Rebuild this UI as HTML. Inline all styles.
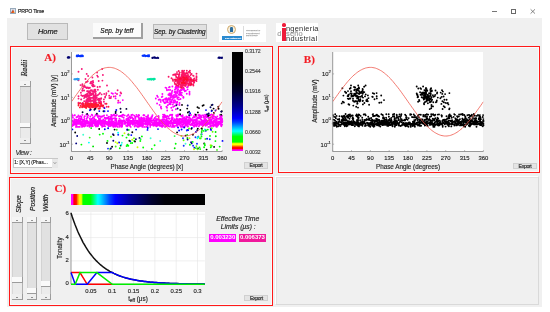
<!DOCTYPE html>
<html><head><meta charset="utf-8"><title>PRPO Time</title><style>
*{margin:0;padding:0;box-sizing:border-box}
html,body{width:550px;height:312px;overflow:hidden;background:#fff;font-family:"Liberation Sans",Arial,sans-serif;color:#262626}
.a{position:absolute}
.btn{position:absolute;background:#e1e1e1;border:1px solid #b9b9b9;font-style:italic;text-align:center;color:#1a1a1a;white-space:nowrap;-webkit-text-stroke:0.2px currentColor}
.red{position:absolute;border:1px solid #ff1a1a;box-shadow:inset 0 0 0 1px #fafafa}
.t{position:absolute;white-space:nowrap;line-height:1;-webkit-text-stroke:0.15px currentColor}
.r90{position:absolute;white-space:nowrap;line-height:1;-webkit-text-stroke:0.15px currentColor;transform:translate(-50%,-50%) rotate(-90deg)}
.c{transform:translate(-50%,-50%)}
.sl{position:absolute;background:#e7e7e7;border:1px solid #d0d0d0}
.sb{position:absolute;background:#f7f7f7;border:1px solid #c4c4c4;border-right-color:#a8a8a8;border-bottom-color:#a8a8a8}
.tri{position:absolute;width:0;height:0;border-left:1.5px solid transparent;border-right:1.5px solid transparent}
svg{position:absolute;left:0;top:0;overflow:visible}
</style></head><body>
<div class="a" style="left:9.6px;top:8.2px;width:6.2px;height:6px;background:#dde6ef;border:0.5px solid #9ab"></div><div class="a" style="left:10.6px;top:9.2px;width:4.4px;height:4.2px;background:linear-gradient(135deg,#2f6fc0 0%,#e04a18 55%,#f3a31f 100%);clip-path:polygon(0 100%,55% 0,100% 100%)"></div><div class="t" style="left:18.1px;top:9.1px;font-size:5.2px;color:#111;letter-spacing:-0.18px">PRPO Time</div><div class="a" style="left:491.8px;top:11px;width:5px;height:1px;background:#777"></div><div class="a" style="left:511.3px;top:9.4px;width:4.5px;height:4.2px;border:1px solid #6a6a6a"></div><svg width="550" height="312"><path d="M530.6 9.3L535 13.6M535 9.3L530.6 13.6" stroke="#555" stroke-width="0.7"/></svg><div class="a" style="left:7px;top:18px;width:535px;height:289px;background:#f0f0f0"></div><div class="btn" style="left:27.3px;top:23.3px;width:41px;height:16.3px;line-height:16.6px;font-size:7.4px">Home</div><div class="btn" style="left:92.6px;top:23.3px;width:50.4px;height:15.8px;line-height:16.6px;font-size:6.5px;background:#fbfbfb;border:none;border-right:2px solid #a0a0a0;border-bottom:2px solid #a0a0a0">Sep. by teff</div><div class="btn" style="left:153px;top:24px;width:53.7px;height:14.6px;line-height:14.6px;font-size:6.3px">Sep. by Clustering</div><div class="a" style="left:219.4px;top:23.5px;width:47px;height:18.2px;background:#fff"></div><div class="a" style="left:227.3px;top:25.2px;width:9.2px;height:9.2px;border-radius:50%;background:#f6eedc;border:0.7px solid #d0aa6c"></div><div class="a" style="left:230.4px;top:27.3px;width:3px;height:4.8px;background:#2a6c9e;border-radius:1.2px 1.2px 0.5px 0.5px"></div><div class="a" style="left:222.4px;top:36.3px;width:19.3px;height:3.6px;background:#2b8bd0"></div><div class="a" style="left:243.4px;top:25.5px;width:0.6px;height:14.5px;background:#dcdcdc"></div><div class="t" style="left:246px;top:28.8px;font-size:2px;color:#9a9a9a;-webkit-text-stroke:0.25px #b0b0b0;letter-spacing:0.05px">UNIVERSIDAD</div><div class="t" style="left:246px;top:31.5px;font-size:2px;color:#9a9a9a;-webkit-text-stroke:0.25px #b0b0b0;letter-spacing:0.05px">POLIT&#201;CNICA</div><div class="t" style="left:246px;top:34.2px;font-size:2px;color:#9a9a9a;-webkit-text-stroke:0.25px #b0b0b0;letter-spacing:0.05px">DE MADRID</div><div class="t" style="left:225px;top:37.1px;font-size:2.3px;color:#fff;-webkit-text-stroke:0.15px #e8f2fa;letter-spacing:0.1px">POLIT&#201;CNICA</div><div class="a" style="left:276px;top:23.2px;width:42px;height:18.5px;background:#fff"></div><div class="a" style="left:282px;top:23.3px;width:3.7px;height:3.7px;background:#ee1c3a;border-radius:50%"></div><div class="a" style="left:282px;top:27.6px;width:3.7px;height:13.6px;background:#ee1c3a"></div><div class="t" style="left:286px;top:24.6px;font-size:7.4px;color:#2a2a2a;letter-spacing:0.25px;-webkit-text-stroke:0">ngenieria</div><div class="t" style="left:277.2px;top:30.1px;font-size:7.4px;color:#9c9c9c;letter-spacing:0.2px">d<span style="display:inline-block;width:4.6px"></span>seño</div><div class="t" style="left:286px;top:35.4px;font-size:7.4px;color:#2a2a2a;letter-spacing:0.4px;-webkit-text-stroke:0">ndustrial</div><div class="red" style="left:10px;top:46px;width:263px;height:128px"></div><div class="red" style="left:278px;top:46px;width:262px;height:127px"></div><div class="red" style="left:9px;top:177px;width:264px;height:129px"></div><div class="a" style="left:275px;top:176px;width:264px;height:129px;border:1px solid #d9d9d9;border-top-color:#fff;border-left-color:#fff;box-shadow:inset 1px 1px 0 #e3e3e3"></div><div class="t" style="left:44.3px;top:51.7px;font-family:'Liberation Serif',serif;font-weight:bold;font-size:11px;color:#f41c24">A)</div><div class="t" style="left:303.8px;top:54.3px;font-family:'Liberation Serif',serif;font-weight:bold;font-size:11px;color:#f41c24">B)</div><div class="t" style="left:54.5px;top:182.8px;font-family:'Liberation Serif',serif;font-weight:bold;font-size:11px;color:#f41c24">C)</div><div class="r90" style="left:25.1px;top:68.1px;font-size:7.7px;font-style:italic;font-family:'Liberation Serif',serif;color:#1a1a1a">Radii</div><div class="a" style="left:20.2px;top:81.3px;width:10.8px;height:62.5px;background:#e1e1e1;border-left:1px solid #d2d2d2;border-right:1px solid #b0b0b0"></div><div class="a" style="left:20.2px;top:127.6px;width:10.8px;height:16.2px;background:#ebebeb;border-left:1px solid #d8d8d8;border-right:1px solid #b0b0b0"></div><div class="a" style="left:20.2px;top:81.3px;width:10.8px;height:6px;background:#f5f5f5;border-right:1px solid #9c9c9c;border-bottom:1px solid #9c9c9c"></div><div class="tri" style="left:24.3px;top:83.7px;border-bottom:1.4px solid #333"></div><div class="a" style="left:20.2px;top:123.0px;width:10.8px;height:4.6px;background:#fafafa;border-right:1px solid #9c9c9c;border-bottom:1px solid #9c9c9c"></div><div class="a" style="left:20.2px;top:137.8px;width:10.8px;height:6px;background:#efefef;border-right:1px solid #9c9c9c;border-bottom:1px solid #9c9c9c"></div><div class="tri" style="left:24.3px;top:140.2px;border-top:1.4px solid #333"></div><div class="t" style="left:15.5px;top:149.8px;font-size:6.9px;font-style:italic;color:#333;letter-spacing:-0.45px">View :</div><div class="a" style="left:12.7px;top:158.3px;width:45.6px;height:9.8px;background:#fff;border:1px solid #c8c8c8"></div><div class="a" style="left:51.8px;top:158.8px;width:6px;height:8.8px;background:#e8e8e8"></div><svg width="550" height="312"><path d="M53.6 162.3L54.9 163.6L56.2 162.3" stroke="#555" stroke-width="0.6" fill="none"/></svg><div class="t" style="left:14.2px;top:160.9px;font-size:4.8px;color:#222">1: [X,Y] (Phas...</div><div class="a" style="left:71.5px;top:52.0px;width:150.7px;height:99.5px;background:#fff"></div><svg width="550" height="312"><g><path d="M120.0 95.5h0M111.1 96.6h0M115.6 98.4h0M111.6 93.1h0M120.1 102.5h0M122.8 100.1h0M115.5 96.2h0M115.4 93.1h0M118.1 102.7h0M112.9 93.8h0" stroke="#ff00ff" stroke-width="1.9" stroke-linecap="round"/><path d="M91.6 123.9h0M91.2 123.3h0M83.8 125.3h0M208.4 126.9h0M112.2 125.8h0M117.8 123.6h0M197.3 124.0h0M165.1 124.5h0M99.8 122.1h0M137.2 121.3h0M205.0 123.4h0M128.2 121.5h0M178.8 123.2h0M86.1 123.5h0M181.3 126.9h0M188.7 121.7h0M196.2 123.1h0M173.3 123.0h0M127.5 124.1h0M81.2 125.3h0M149.8 122.4h0M185.9 121.7h0M100.3 120.2h0M111.7 121.5h0M152.5 124.3h0M184.5 123.4h0M206.9 121.4h0M90.5 122.6h0M99.3 123.4h0M192.2 124.3h0M168.8 122.2h0M180.4 122.8h0M222.0 119.8h0M213.3 121.1h0M198.8 126.4h0M188.8 119.1h0M131.1 122.7h0M168.3 123.7h0M99.4 122.6h0M186.2 121.8h0M185.9 123.2h0M180.4 123.3h0M138.7 123.1h0M128.6 119.7h0M134.9 123.0h0M76.5 121.7h0M199.0 122.3h0M153.4 123.7h0M130.0 124.5h0M154.3 125.0h0M180.5 122.4h0M129.1 125.1h0M196.9 125.5h0M210.3 125.5h0M130.0 125.9h0M92.3 123.0h0M186.3 123.0h0M221.4 124.9h0M93.8 120.7h0M179.1 123.7h0M196.1 122.3h0M210.5 122.6h0M90.1 120.0h0M85.4 121.6h0M220.7 123.3h0M89.1 125.0h0M98.2 125.2h0M158.3 123.1h0M138.9 122.9h0M184.8 121.7h0M100.3 124.1h0M209.6 122.8h0M104.3 124.5h0M187.6 126.6h0M81.7 123.2h0M143.0 120.5h0M76.4 121.7h0M118.9 120.5h0M118.6 121.0h0M180.2 125.8h0M140.2 123.7h0M80.1 120.4h0M221.8 124.5h0M205.7 125.7h0M209.9 122.6h0M108.7 122.0h0M131.0 122.7h0M105.8 123.8h0M90.4 124.5h0M76.5 125.5h0M147.5 125.6h0M90.1 125.6h0M98.1 125.9h0M201.4 124.6h0M144.6 120.4h0M99.2 123.1h0M172.6 123.9h0M111.6 122.6h0M151.1 125.0h0M114.2 122.6h0M149.4 121.5h0M166.4 126.0h0M152.5 124.6h0M131.2 123.7h0M190.9 125.1h0M203.4 125.3h0M98.6 123.9h0M92.1 118.6h0M88.6 122.0h0M219.4 122.4h0M213.7 121.4h0M106.3 123.7h0M218.0 125.6h0M102.9 122.4h0M148.0 121.1h0M146.6 126.9h0M209.7 122.4h0M77.6 121.0h0M119.1 123.8h0M162.1 124.1h0M81.5 122.0h0M107.2 124.8h0M141.7 122.4h0M204.5 121.5h0M186.4 123.6h0M196.7 124.8h0M186.4 122.1h0M178.4 123.9h0M199.8 123.1h0M174.4 126.9h0M182.6 122.0h0M117.0 125.9h0M96.8 123.2h0M185.7 123.1h0M96.5 124.7h0M210.3 125.0h0M161.6 125.7h0M121.2 123.9h0M212.9 122.2h0M94.9 122.3h0M149.2 124.3h0M85.3 124.4h0M217.3 126.0h0M158.4 124.1h0M192.9 125.3h0M114.1 126.2h0M192.6 123.6h0M177.6 120.5h0M168.7 121.1h0M215.0 120.6h0M137.0 126.3h0M134.2 121.7h0M176.0 125.6h0M197.6 124.4h0M122.1 126.6h0M172.6 125.2h0M103.1 123.1h0M154.8 122.9h0M187.6 123.5h0M81.4 123.6h0M181.4 122.3h0M73.8 123.2h0M216.2 126.4h0M142.3 120.1h0M133.3 123.8h0M180.3 121.6h0M150.5 123.7h0M181.9 124.9h0M84.3 123.2h0M156.5 124.8h0M155.8 120.3h0M212.2 125.4h0M77.5 122.2h0M139.9 124.5h0M166.8 123.6h0M154.7 118.4h0M82.7 121.9h0M161.1 123.7h0M105.1 126.3h0M101.0 123.8h0M204.2 123.8h0M101.4 120.6h0M140.1 126.0h0M184.8 126.7h0M178.3 123.4h0M155.1 122.9h0M193.4 120.2h0M141.8 125.0h0M165.2 126.9h0M195.2 124.7h0M173.9 125.7h0M168.4 124.3h0M132.8 121.4h0M155.8 125.8h0M131.3 121.0h0M183.9 122.9h0M128.9 123.8h0M142.0 125.0h0M185.6 124.1h0M147.6 124.0h0M122.5 121.9h0M196.3 120.9h0M129.0 123.4h0M199.1 122.0h0M190.1 120.8h0M139.0 120.9h0M179.1 122.4h0M76.7 119.8h0M130.4 120.7h0M201.4 120.2h0M159.0 123.6h0M155.7 124.1h0M171.9 126.9h0M173.8 120.5h0M159.6 122.0h0M135.0 125.0h0M99.2 122.9h0M115.7 122.7h0M115.7 126.5h0M136.5 122.7h0M222.4 121.1h0M124.7 120.8h0M139.1 123.9h0M127.6 123.9h0M159.3 120.7h0M214.6 121.4h0M205.8 124.3h0M128.4 124.4h0M111.8 122.1h0M205.0 124.5h0M146.1 124.4h0M175.0 119.9h0M82.6 122.7h0M202.4 124.1h0M118.8 122.2h0M146.2 119.2h0M101.4 122.8h0M135.0 124.7h0M196.5 126.3h0M196.5 119.1h0M143.0 126.9h0M187.5 121.2h0M140.7 125.1h0M127.9 125.6h0M153.9 125.2h0M101.9 123.6h0M119.3 121.1h0M178.2 124.5h0M187.8 121.9h0M80.1 118.5h0M182.2 126.9h0M194.9 124.6h0M138.7 126.8h0M80.9 121.6h0M174.6 126.1h0M108.7 126.3h0M168.6 126.3h0M128.4 123.3h0M167.7 121.0h0M110.5 123.0h0M143.5 119.1h0M150.7 120.1h0M166.8 123.5h0M102.2 121.4h0M216.8 123.0h0M115.2 123.1h0M117.7 126.9h0M110.2 125.8h0M81.7 123.2h0M135.4 125.6h0M188.0 121.8h0M178.6 122.7h0M101.0 125.0h0M92.2 120.9h0M120.0 122.8h0M187.5 120.8h0M145.2 123.5h0M210.9 126.4h0M170.6 121.9h0M165.3 123.7h0M187.4 121.6h0M184.8 121.1h0M123.4 121.0h0M110.3 126.1h0M137.6 126.9h0M145.4 124.2h0M92.9 121.9h0M138.1 124.6h0M168.1 122.7h0M92.0 124.8h0M92.3 123.9h0M97.7 123.8h0M114.3 124.5h0M216.7 122.2h0M75.4 122.5h0M99.2 120.0h0M96.4 122.5h0M143.1 120.6h0M73.8 123.0h0M140.7 121.5h0M96.1 123.5h0M112.2 124.2h0M191.2 120.6h0M99.3 121.8h0M164.7 121.5h0M132.9 124.7h0M134.6 126.5h0M194.8 124.9h0M95.8 122.6h0M211.0 126.1h0M206.4 120.4h0M172.4 126.1h0M79.0 122.1h0M171.7 118.0h0M162.2 126.9h0M188.1 126.3h0M103.8 121.3h0M215.5 123.6h0M205.3 122.9h0M88.8 123.5h0M119.1 120.5h0M76.4 122.0h0M197.0 124.2h0M209.7 123.7h0M221.0 125.6h0M163.9 123.5h0M172.1 126.9h0M173.9 121.9h0M157.6 123.8h0M215.3 119.7h0M163.3 120.9h0M122.2 125.8h0M148.9 121.5h0M74.3 124.3h0M180.8 123.2h0M176.3 121.3h0M135.1 122.6h0M200.1 122.3h0M185.6 122.4h0M122.3 124.7h0M83.2 124.5h0M91.5 122.2h0M99.3 121.6h0M117.4 123.8h0M139.1 123.1h0M211.6 125.3h0M113.5 126.9h0M207.2 124.9h0M174.2 123.2h0M200.4 123.0h0M132.4 121.7h0M72.0 121.6h0M190.3 121.4h0M108.6 122.5h0M93.0 122.5h0M192.2 124.7h0M175.1 122.5h0M103.6 122.9h0M111.9 121.0h0M213.3 126.4h0M112.0 124.3h0M177.6 126.7h0M91.1 124.8h0M194.6 126.1h0M89.3 122.8h0M149.4 124.7h0M76.8 126.9h0M154.6 121.0h0M199.3 125.5h0M84.2 126.5h0M112.9 124.1h0M187.0 124.8h0M163.3 125.7h0M118.7 122.0h0M166.5 124.1h0M140.2 121.6h0M201.7 122.0h0M115.7 122.1h0M185.9 123.0h0M167.5 123.6h0M183.3 124.2h0M128.6 120.5h0M181.0 126.9h0M177.0 125.5h0M130.0 124.7h0M75.5 122.6h0M216.9 123.1h0M179.3 124.4h0M102.4 124.1h0M181.9 120.0h0M113.6 124.7h0M142.4 126.9h0M201.3 119.7h0M139.2 125.2h0M115.0 124.0h0M117.6 123.1h0M83.1 126.0h0M104.6 121.0h0M112.4 123.6h0M97.6 126.2h0M81.0 122.9h0M141.8 122.5h0M103.9 123.5h0M183.1 122.4h0M210.8 126.3h0M112.7 121.5h0M157.9 125.0h0M148.0 120.9h0M82.8 124.6h0M90.4 123.1h0M205.1 118.3h0M143.1 123.3h0M193.0 121.2h0M81.6 122.4h0M161.3 126.3h0M202.2 121.1h0M202.4 121.2h0M72.4 126.1h0M150.3 123.5h0M127.2 126.3h0M186.3 123.9h0M82.6 121.6h0M111.5 123.2h0M194.2 125.7h0M142.4 125.1h0M139.9 123.3h0M217.8 123.4h0M119.8 123.1h0M77.8 122.2h0M130.7 126.9h0M94.7 123.3h0M83.9 121.1h0M157.2 122.4h0M215.5 124.7h0M159.0 124.6h0M169.2 123.0h0M120.4 122.0h0M157.7 123.3h0M185.1 120.0h0M160.5 120.8h0M192.7 124.9h0M154.6 122.4h0M101.4 124.0h0M159.5 125.7h0M145.6 124.6h0M96.6 123.3h0M165.0 126.9h0M194.9 124.6h0M91.9 122.6h0M153.8 124.7h0M182.3 124.1h0M132.4 121.6h0M112.3 123.4h0M127.7 123.0h0M153.3 119.5h0M175.2 123.0h0M155.9 122.7h0M87.7 122.4h0M195.0 120.1h0M211.0 122.6h0M86.8 123.2h0M109.2 123.5h0M97.7 121.1h0M199.7 124.5h0M209.0 120.9h0M78.2 122.9h0M121.7 125.8h0M100.6 121.9h0M142.4 122.3h0M210.7 125.4h0M82.1 122.6h0M97.4 122.7h0M145.0 123.7h0M150.6 125.3h0M184.1 119.0h0M137.6 121.7h0M92.8 121.3h0M124.9 121.2h0M219.8 121.6h0M184.9 121.7h0M89.1 123.9h0M193.5 121.6h0M118.4 123.5h0M189.5 124.1h0M73.4 121.9h0M203.1 123.6h0M96.0 126.5h0M140.3 123.9h0M171.4 122.1h0M148.2 123.2h0M96.5 121.5h0M92.5 123.8h0M114.5 125.0h0M79.4 121.7h0M104.2 122.9h0M91.1 125.5h0M141.7 122.3h0M125.3 123.7h0M160.1 121.3h0M113.9 121.7h0M76.6 122.3h0M121.5 126.9h0M185.5 122.5h0M110.1 122.3h0M132.6 122.2h0M185.5 123.0h0M132.9 124.5h0M205.5 123.7h0M210.1 126.9h0M118.4 123.7h0M182.6 126.1h0M109.7 123.8h0M92.6 124.5h0M137.6 120.6h0M162.5 123.1h0M212.8 123.2h0M93.5 122.8h0M179.1 119.2h0M143.3 125.0h0M91.4 122.6h0M218.4 122.5h0M176.6 122.8h0M91.0 122.9h0M208.3 124.1h0M87.1 120.9h0M85.5 121.5h0M121.6 123.9h0M213.1 123.6h0M76.5 122.6h0M210.1 122.2h0M163.9 121.7h0M81.6 123.2h0M157.4 125.5h0M140.8 121.3h0M156.7 126.2h0M182.8 124.9h0M174.0 122.4h0M222.1 124.8h0M95.2 120.5h0M194.2 120.0h0M133.6 120.8h0M189.8 122.5h0M206.2 122.7h0M221.3 122.3h0M111.7 123.5h0M139.9 119.2h0M213.9 124.2h0M214.3 120.6h0M127.8 122.0h0M213.5 122.5h0M132.8 121.1h0M128.1 120.7h0M185.7 121.4h0M142.7 123.3h0M139.2 124.4h0M129.8 124.4h0M136.9 121.4h0M92.6 121.8h0M80.7 121.6h0M185.4 124.2h0M156.7 119.4h0M173.0 125.7h0M192.7 122.4h0M106.2 121.8h0M106.8 123.9h0M113.5 125.3h0M117.4 124.0h0M186.4 125.3h0M128.0 123.6h0M120.3 125.6h0M167.6 125.7h0M99.7 123.1h0M87.6 126.0h0M176.8 123.6h0M185.7 123.5h0M116.3 121.5h0M167.5 122.8h0M76.6 124.8h0M132.6 120.8h0M158.8 124.5h0M109.8 124.0h0M124.1 123.8h0M163.5 119.1h0M160.6 123.1h0M94.8 124.5h0M178.2 121.9h0M83.6 123.5h0M217.9 118.8h0M102.1 124.6h0M109.8 122.0h0M101.7 125.0h0M221.2 119.8h0M114.8 124.6h0M162.9 122.8h0M221.1 124.8h0M215.0 121.5h0M77.9 122.1h0M150.2 126.9h0M162.3 121.7h0M177.6 122.0h0M122.2 122.8h0M121.0 121.4h0M72.1 125.6h0M76.8 126.6h0M154.6 122.0h0M83.0 120.0h0M102.1 125.5h0M121.8 125.4h0M82.1 124.9h0M76.2 125.5h0M211.5 121.7h0M137.2 123.0h0M102.4 120.7h0M178.5 120.6h0M72.9 125.2h0M108.5 122.0h0M216.6 126.9h0M207.1 123.4h0M167.5 122.1h0M85.6 124.8h0M119.5 126.7h0M75.7 124.2h0M104.6 121.0h0M75.3 124.0h0M90.6 125.9h0M167.1 122.4h0M86.7 121.8h0M95.0 125.2h0M207.8 123.6h0M122.2 121.2h0M121.8 122.6h0M84.6 121.9h0M191.7 123.9h0M173.6 123.5h0M154.1 125.5h0M164.8 124.6h0M86.7 120.3h0M110.8 124.1h0M159.6 125.0h0M215.3 124.2h0M194.9 125.3h0M168.2 122.3h0M149.8 121.5h0M73.8 125.1h0M206.0 121.3h0M81.6 119.2h0M91.0 125.2h0M176.2 121.9h0M194.1 122.7h0M190.3 120.6h0M139.8 120.8h0M98.2 121.1h0M76.8 122.6h0M200.1 124.0h0M219.1 118.9h0M108.4 124.7h0M202.3 121.1h0M132.3 121.3h0M118.5 124.6h0M147.8 123.2h0M72.7 120.4h0M138.3 126.8h0M101.6 121.7h0M179.1 123.8h0M147.4 123.7h0M202.7 126.0h0M206.9 122.4h0M119.3 125.2h0M113.8 121.9h0M213.3 125.4h0M147.6 121.9h0M86.1 122.6h0M78.4 126.9h0M221.1 123.9h0M159.0 123.5h0M79.7 126.9h0M148.7 124.0h0M147.6 121.7h0M137.2 124.7h0M215.1 121.1h0M214.8 125.4h0M90.4 125.6h0M94.4 122.2h0M133.0 122.1h0M197.4 123.6h0M165.7 123.3h0M181.7 121.4h0M158.5 124.4h0M103.2 119.4h0M195.0 122.5h0M73.6 122.5h0M177.0 122.8h0M100.8 123.9h0M142.6 121.0h0M218.7 124.4h0M152.9 123.0h0M80.1 122.1h0M136.2 120.7h0M171.2 121.1h0M80.1 124.0h0M109.7 121.5h0M74.3 123.4h0M153.1 125.3h0M129.1 125.3h0M147.6 126.3h0M116.2 122.7h0M170.7 121.2h0M97.6 125.2h0M208.4 123.9h0M216.5 125.4h0M145.9 123.3h0M141.8 125.6h0M201.3 124.9h0M115.3 124.7h0M192.8 124.3h0M114.9 124.1h0M180.2 123.7h0M121.9 123.7h0M162.5 125.2h0M211.3 122.3h0M79.7 126.6h0M193.4 123.1h0M153.3 125.2h0M128.7 123.1h0M124.4 122.8h0M82.0 126.9h0M110.5 122.7h0M165.6 120.9h0M86.2 121.9h0M172.6 122.7h0M216.8 126.9h0M219.6 123.7h0M205.8 125.1h0M193.3 121.4h0M98.4 124.0h0M218.0 124.6h0M102.1 126.7h0M202.7 122.0h0M204.1 124.4h0M165.4 123.9h0M150.2 121.4h0M101.8 123.3h0M149.9 122.8h0M115.4 118.9h0M90.5 124.4h0M90.9 124.3h0M192.5 122.5h0M210.8 120.8h0M92.9 126.1h0M73.5 123.8h0M111.3 125.2h0M91.8 126.0h0M100.0 122.3h0M159.6 124.8h0M135.3 122.8h0M136.3 123.2h0M102.5 123.1h0M171.9 123.3h0M115.2 125.4h0M131.8 123.5h0M141.5 123.0h0M208.1 122.8h0M108.7 123.9h0M180.0 121.6h0M118.2 122.3h0M206.6 123.2h0M131.0 122.2h0M147.8 123.1h0M204.0 122.1h0M173.1 126.9h0M85.7 125.8h0M92.2 124.2h0M221.1 123.2h0M75.9 126.9h0M116.9 123.9h0M216.3 123.1h0M73.8 123.9h0M95.9 123.9h0M103.7 126.0h0M84.5 123.3h0M142.8 126.9h0M161.0 121.6h0M119.6 124.6h0M87.9 121.4h0M194.0 126.8h0M193.0 122.7h0M156.4 123.2h0M92.3 125.1h0M153.3 125.7h0M166.6 121.2h0M136.2 122.6h0M201.9 120.6h0M130.4 123.6h0M148.6 123.1h0M88.7 122.6h0M156.6 122.0h0M187.2 122.6h0M181.9 121.9h0M110.3 124.3h0M221.3 126.2h0M180.2 119.6h0M135.5 123.1h0M134.2 122.5h0M189.2 124.2h0M98.0 121.5h0M168.1 123.0h0M180.0 121.3h0M149.5 124.6h0M203.4 123.5h0M142.3 123.0h0M141.7 124.0h0M114.5 122.8h0M210.3 120.3h0M119.3 124.4h0M176.5 123.8h0M133.3 123.0h0M212.7 125.2h0M214.6 125.6h0M76.0 121.2h0M221.7 121.8h0M162.8 126.2h0M82.7 126.0h0M146.6 121.9h0M79.0 121.1h0M154.4 122.1h0M99.5 122.4h0M127.1 120.3h0M117.5 123.4h0M162.4 120.9h0M195.7 121.0h0M212.9 125.0h0M121.2 122.0h0M157.5 123.2h0M72.4 124.5h0M127.7 124.8h0M216.6 122.7h0M89.4 123.4h0M202.8 121.7h0M170.0 126.6h0M115.9 124.5h0M189.0 121.2h0M115.2 123.3h0M206.6 124.7h0M84.0 124.2h0M89.5 126.8h0M184.8 125.9h0M139.3 122.3h0M93.8 123.1h0M149.0 120.9h0M116.3 123.8h0M154.4 123.6h0M183.8 126.9h0M200.9 123.5h0M80.4 119.3h0M160.9 122.0h0M220.0 123.5h0M140.9 120.9h0M187.7 121.7h0M86.2 122.6h0M203.4 123.9h0M159.4 123.0h0M205.6 121.6h0M190.4 124.8h0M202.8 122.3h0M80.2 122.4h0M179.5 120.7h0M101.2 121.8h0M111.6 124.5h0M120.5 120.2h0M160.8 123.2h0M166.3 124.7h0M212.1 122.6h0M73.4 123.8h0M100.7 121.2h0M126.2 125.8h0M195.0 125.4h0M154.5 123.7h0M148.8 120.0h0M186.3 121.3h0M170.4 125.2h0M115.3 126.6h0M84.7 123.9h0M141.3 125.7h0M204.4 122.1h0M161.8 122.9h0M79.5 123.3h0M138.0 124.1h0M129.6 120.4h0M159.4 125.1h0M160.2 125.8h0M215.2 121.1h0M122.6 120.7h0M133.1 124.0h0M164.1 122.1h0M205.3 118.8h0M178.1 124.8h0M142.6 123.6h0M194.5 122.4h0M144.8 126.9h0M217.0 123.6h0" stroke="#ff00ff" stroke-width="1.9" stroke-linecap="round"/><path d="M102.8 116.3h0M150.3 119.5h0M159.1 120.0h0M212.5 122.8h0M77.6 123.7h0M208.7 123.1h0M221.1 117.7h0M123.8 120.1h0M181.1 115.7h0M196.1 119.4h0M169.8 115.2h0M115.1 115.6h0M165.6 115.7h0M203.9 117.4h0M87.7 117.4h0M144.0 121.2h0M74.9 115.2h0M199.1 115.6h0M189.1 120.7h0M78.5 120.9h0M184.1 121.2h0M175.9 121.3h0M90.6 120.8h0M150.8 119.7h0M175.6 121.5h0M122.2 115.3h0M147.6 116.5h0M218.9 121.5h0M167.5 116.3h0M147.3 119.5h0M81.5 117.0h0M89.8 118.6h0M200.0 122.4h0M183.6 120.8h0M197.6 118.7h0M158.8 117.1h0M158.5 122.1h0M151.6 120.7h0M182.5 118.7h0M121.4 122.8h0M146.5 121.1h0M142.4 123.8h0M171.4 120.8h0M104.1 123.0h0M75.3 119.7h0M84.9 121.2h0M98.6 122.5h0M200.9 115.4h0M179.7 119.0h0M184.7 120.3h0M138.6 115.0h0M87.0 122.0h0M141.8 121.3h0M201.8 123.4h0M148.4 118.0h0M166.9 119.0h0M128.0 123.2h0M94.2 118.4h0M166.1 122.4h0M144.7 118.5h0M123.7 117.7h0M110.5 117.1h0M176.6 116.5h0M119.5 118.6h0M158.5 116.0h0M110.7 122.4h0M185.3 123.8h0M128.1 115.4h0M143.8 115.0h0M211.6 114.5h0M180.0 123.4h0M182.7 115.2h0M122.7 121.0h0M198.4 117.4h0M129.7 116.4h0M220.7 116.8h0M206.8 121.1h0M171.0 114.7h0M197.1 122.7h0M153.7 119.9h0M182.2 116.7h0M90.3 116.5h0M220.8 120.7h0M192.3 120.5h0M93.0 117.5h0M108.1 117.7h0M158.3 118.9h0M186.7 123.1h0M94.0 119.6h0M216.6 122.5h0M123.7 120.6h0M221.7 119.8h0M185.1 119.2h0M144.8 121.0h0M126.3 119.2h0M86.1 121.4h0M84.8 116.2h0M166.5 117.6h0M188.3 122.8h0M208.5 118.3h0M126.6 122.5h0M213.1 123.4h0M116.3 120.0h0M213.4 115.5h0M210.2 121.7h0M94.9 120.8h0M201.5 117.3h0M177.8 122.7h0M177.6 119.1h0M198.4 115.0h0M152.5 115.1h0M148.0 116.7h0M126.9 120.3h0M202.2 122.2h0M207.6 115.4h0M95.7 114.7h0M188.1 120.4h0M113.1 118.4h0M99.3 118.7h0M101.3 122.3h0M158.1 123.2h0M113.7 123.7h0M108.1 121.9h0M86.4 114.5h0M120.5 115.9h0M188.4 120.1h0M74.8 123.6h0M144.4 115.3h0M162.5 119.4h0M79.0 118.3h0M115.9 118.4h0M208.4 117.1h0M221.6 117.1h0M199.9 116.8h0M97.1 115.5h0M186.9 119.8h0M139.6 118.7h0M97.3 121.3h0M144.1 120.6h0M210.9 123.6h0M204.0 117.7h0M130.6 122.9h0M81.1 118.2h0M207.5 120.8h0M220.4 122.1h0M148.7 118.3h0M105.5 118.7h0M153.6 120.5h0M176.6 115.6h0M144.3 119.6h0M124.7 115.4h0M108.9 116.6h0M116.3 120.4h0M79.0 123.7h0M110.0 124.0h0M215.4 117.0h0M72.7 115.9h0M181.3 119.4h0M190.6 118.7h0M132.6 118.1h0M161.4 121.8h0M104.9 121.2h0M172.4 119.8h0M178.4 120.4h0M182.4 120.0h0M145.8 120.9h0M218.0 123.3h0M202.3 123.5h0M157.9 123.8h0M174.5 122.7h0M113.0 115.5h0M214.0 118.8h0M168.9 121.9h0M206.6 117.3h0M115.1 120.3h0M219.8 115.0h0M87.4 116.4h0M151.6 118.3h0M88.2 115.2h0M100.2 118.5h0M186.9 116.7h0M81.5 122.7h0M129.3 117.5h0M100.4 118.1h0M199.9 122.1h0M83.9 119.8h0M122.3 115.0h0M200.8 116.6h0M175.2 120.3h0M177.7 116.4h0M221.2 116.9h0M75.0 120.4h0M171.9 119.2h0M184.0 117.1h0M184.5 119.8h0M179.3 120.5h0M82.4 114.9h0M84.2 117.1h0M188.2 117.4h0M163.9 122.8h0M111.2 115.0h0M72.9 117.8h0M152.1 116.3h0M85.2 121.1h0M184.5 122.2h0M122.9 115.0h0M193.4 122.7h0M85.9 121.1h0M146.1 116.6h0M86.6 123.2h0M189.3 117.3h0M156.1 122.0h0M106.9 115.2h0M216.9 118.8h0M174.5 119.3h0M122.3 123.0h0M200.7 122.4h0M128.9 119.7h0M213.8 115.0h0M116.4 118.6h0M220.1 118.1h0M80.9 124.0h0M182.4 121.0h0M115.5 118.3h0M135.5 118.0h0M167.6 121.8h0M78.4 115.4h0M105.3 122.3h0M87.2 120.9h0M183.2 118.6h0M104.9 121.2h0M146.7 118.3h0M121.1 115.9h0M107.2 118.5h0M212.7 115.0h0M148.1 115.3h0M169.7 118.7h0M177.9 122.3h0M195.5 116.4h0M111.2 119.3h0M83.4 123.8h0M142.1 122.4h0M97.2 123.1h0M74.6 120.9h0M210.4 120.1h0M166.1 120.0h0M134.1 120.2h0M92.1 118.9h0M186.4 117.9h0M152.0 116.8h0M97.8 115.1h0M219.8 118.0h0M215.1 121.8h0M211.5 119.8h0M196.3 116.1h0M151.8 122.2h0M116.9 114.9h0M169.9 123.3h0M94.4 120.7h0M164.6 119.8h0M81.5 118.4h0M73.6 122.3h0M179.5 114.6h0M123.2 114.7h0M176.8 119.4h0M189.3 117.3h0M197.6 118.3h0M164.5 119.6h0M199.4 114.9h0M171.0 123.8h0M211.5 120.9h0M206.9 115.4h0M78.0 121.5h0M111.9 119.6h0M130.2 121.0h0M109.6 121.5h0M98.2 123.9h0M203.4 115.6h0M75.3 124.0h0M99.0 119.0h0M186.3 116.4h0M105.2 118.0h0M110.5 118.0h0M217.6 123.0h0M186.7 119.5h0M139.2 115.1h0M92.1 121.3h0M112.1 119.2h0M219.7 122.2h0M191.0 114.9h0M82.1 122.7h0M178.2 123.0h0M128.3 114.6h0M180.2 119.0h0M116.1 115.7h0M91.2 119.5h0M74.5 115.3h0M116.1 122.9h0M201.4 116.2h0M206.1 120.8h0M174.7 120.7h0M184.4 117.5h0M100.9 116.5h0M125.0 123.2h0M207.3 114.9h0M220.4 116.9h0M138.4 117.6h0M188.7 120.0h0M212.5 118.0h0M222.0 115.6h0M116.2 119.9h0M170.3 121.4h0M130.4 121.2h0M141.7 119.2h0M141.2 117.4h0M113.6 114.6h0M74.4 119.6h0M187.2 120.5h0M176.6 118.7h0M198.4 123.6h0M94.6 116.4h0M107.3 122.2h0M161.5 121.3h0M212.9 123.0h0M142.7 123.3h0M101.8 116.7h0M161.3 123.3h0M216.1 118.3h0M202.6 121.0h0M207.2 123.6h0M133.5 120.2h0M111.1 120.0h0M203.0 115.2h0M190.5 120.2h0M200.1 116.8h0M130.6 118.2h0M114.7 118.1h0M107.8 123.7h0M203.0 120.6h0M210.3 121.4h0M126.9 116.1h0M203.6 117.4h0M129.1 122.8h0M139.1 115.6h0M157.0 123.6h0M104.9 118.6h0M111.9 118.2h0M111.8 119.4h0M110.8 118.7h0M149.3 119.0h0M86.7 118.5h0M189.3 121.2h0M97.9 117.1h0M138.5 116.1h0M168.4 118.6h0M92.3 115.3h0M133.3 118.8h0M156.5 119.2h0M154.6 122.0h0M206.3 115.5h0M190.0 118.3h0M89.8 121.9h0M197.3 117.7h0M154.5 122.4h0M173.9 121.3h0M95.7 114.9h0M142.8 118.2h0M177.2 121.8h0M191.9 119.5h0M193.2 120.9h0M104.3 123.9h0M197.2 120.9h0M157.3 119.7h0M172.5 122.5h0M200.1 118.6h0M132.7 114.6h0M210.4 117.1h0M204.6 120.1h0M193.5 123.5h0M128.9 120.3h0M151.3 117.2h0M97.6 123.9h0M186.2 118.3h0M206.0 116.7h0M95.8 119.8h0M184.0 117.8h0M176.3 115.6h0M77.0 121.3h0M210.0 121.1h0M143.9 123.7h0M112.1 115.8h0M76.1 123.2h0M189.6 122.1h0M122.5 116.9h0M149.0 119.1h0M100.9 120.5h0M163.2 117.5h0M131.5 115.5h0M193.3 122.5h0M172.1 116.1h0M180.5 119.2h0M109.4 118.7h0M81.1 123.1h0M204.4 119.8h0M212.8 118.5h0M168.7 123.8h0M210.7 117.8h0M178.2 121.4h0M163.0 116.7h0M134.8 121.7h0M125.2 121.6h0M145.4 122.4h0M105.1 119.1h0M136.1 116.6h0M148.2 120.5h0M76.2 123.1h0M130.9 117.4h0M114.5 114.7h0M167.3 116.3h0M194.1 123.4h0M164.3 114.6h0M171.8 115.0h0M164.2 115.4h0M110.2 123.0h0M128.3 118.1h0M199.0 121.1h0M214.3 121.2h0M98.9 118.6h0M73.1 121.5h0M216.7 118.9h0M201.3 119.6h0M163.2 117.4h0M194.9 114.5h0M161.2 120.1h0M208.1 117.0h0M108.2 117.1h0M138.6 122.8h0M172.8 117.9h0M104.1 115.5h0M179.4 120.5h0M111.1 119.6h0M178.7 115.0h0M192.9 117.8h0M135.6 120.3h0M221.0 117.2h0M166.8 123.9h0M185.7 122.1h0M74.6 119.3h0M88.5 123.2h0M178.9 114.8h0M213.9 116.6h0M166.4 123.2h0M209.3 119.3h0M80.4 116.1h0M206.1 119.9h0M204.0 121.4h0M166.5 120.2h0M136.4 114.9h0M177.9 114.8h0M108.3 118.4h0M172.3 114.7h0M176.3 115.3h0M153.0 120.6h0M110.8 118.7h0M71.8 115.3h0M101.1 122.8h0M197.4 118.0h0M103.6 122.9h0M82.7 120.3h0M108.7 120.4h0M149.9 118.5h0M160.0 120.9h0M203.9 116.8h0M200.6 116.9h0M217.8 122.8h0M205.0 116.4h0M139.5 118.2h0M92.9 121.6h0M215.8 117.6h0M106.0 118.0h0M165.4 123.1h0M111.4 116.5h0M194.8 116.8h0M101.8 122.9h0M135.0 117.1h0M104.7 117.6h0M201.4 122.9h0M165.0 117.6h0M166.8 124.0h0M119.0 122.3h0M98.2 122.5h0M201.0 116.6h0M187.0 116.6h0M182.4 121.6h0M222.1 122.4h0M156.0 116.6h0M98.5 116.5h0M163.5 116.8h0M114.9 115.8h0M149.0 118.5h0M140.9 119.3h0M156.6 120.5h0M210.6 115.0h0M193.8 116.3h0M134.2 115.6h0M194.9 117.1h0M201.4 116.3h0M188.4 123.4h0M154.8 118.0h0M207.3 115.8h0M145.8 120.8h0M87.5 123.7h0M112.6 122.0h0M170.8 120.7h0M128.7 118.1h0M135.3 118.3h0M132.2 117.4h0M100.5 122.2h0M85.6 122.1h0M78.9 119.1h0M173.0 122.7h0M120.4 120.7h0M140.5 121.0h0M212.7 117.1h0M166.1 116.8h0M193.9 116.7h0M186.6 123.2h0M215.5 122.1h0M81.6 123.0h0M129.5 122.3h0M214.9 122.1h0M141.6 118.6h0M214.6 121.8h0M99.4 116.1h0M80.6 120.7h0M206.7 114.9h0M133.6 123.7h0M148.2 122.9h0M212.9 116.1h0M104.6 121.8h0M217.7 122.3h0M131.4 114.9h0M108.9 119.9h0M106.8 118.5h0M149.8 120.4h0M142.0 122.9h0M205.3 121.4h0M79.2 116.5h0M78.1 119.8h0M94.6 119.8h0M163.0 114.6h0M189.5 115.8h0M144.0 117.9h0M164.2 116.2h0M168.5 116.8h0M74.4 120.9h0M108.7 123.6h0M222.2 118.9h0M121.4 120.6h0M214.4 121.7h0M145.8 120.9h0M105.1 120.7h0M71.9 114.5h0M104.4 122.8h0M120.0 116.0h0M137.8 116.2h0M139.0 119.3h0M154.3 120.1h0M143.1 121.7h0M76.5 117.3h0M111.8 123.5h0M216.8 120.5h0M75.6 122.5h0M182.3 119.0h0M143.4 115.2h0M178.2 114.6h0M121.7 120.6h0M127.4 118.5h0M149.5 118.7h0M208.9 117.6h0M121.1 116.2h0M84.5 119.0h0M77.3 116.9h0M204.6 123.0h0M118.9 116.2h0M89.5 123.7h0M161.6 122.7h0M199.1 118.1h0M162.0 121.8h0M94.4 120.0h0M132.8 118.9h0M111.7 122.2h0M74.0 122.4h0M217.3 116.4h0M140.8 123.1h0M91.8 114.8h0M205.1 114.6h0M220.3 119.1h0M194.7 117.4h0M109.8 118.5h0" stroke="#ff00ff" stroke-width="1.9" stroke-linecap="round"/><path d="M177.4 98.7h0M180.2 95.0h0M180.5 99.0h0M161.0 106.6h0M177.2 102.3h0M176.2 102.9h0M171.7 100.9h0M174.5 97.5h0M157.1 95.7h0M167.0 101.9h0M183.4 97.7h0M161.8 97.0h0M164.6 103.1h0M171.3 107.7h0M171.5 102.4h0M187.6 89.4h0M158.7 99.7h0M174.1 95.0h0M179.9 94.7h0M167.0 90.3h0M166.4 98.1h0M179.5 103.0h0M182.3 89.6h0M179.3 93.1h0M155.8 98.5h0M172.6 99.2h0M167.2 110.5h0M175.5 91.8h0M178.4 87.2h0M189.5 93.2h0M170.2 95.7h0M165.2 98.8h0M169.9 95.6h0M161.3 108.6h0M171.0 96.3h0M173.2 97.2h0M183.2 88.2h0M172.0 99.5h0M160.9 100.1h0M171.7 95.3h0M169.6 98.6h0M168.6 98.5h0M172.3 110.2h0M174.8 100.2h0M169.8 93.8h0M176.0 91.9h0M189.5 94.6h0M187.8 87.0h0M170.1 101.7h0M173.4 102.7h0M159.6 104.9h0M163.0 100.8h0M175.8 96.9h0M177.4 93.0h0M170.6 104.3h0M169.8 99.9h0M175.8 93.9h0M165.7 102.8h0M172.1 99.6h0M184.0 88.8h0M168.2 99.7h0M175.8 94.2h0M162.4 94.0h0M168.5 94.4h0M173.2 106.8h0M175.9 109.2h0M165.7 102.1h0M175.5 92.6h0M166.5 88.1h0M170.1 99.4h0M181.0 90.4h0M165.5 87.6h0M182.1 86.5h0M167.0 107.7h0M169.9 103.5h0M162.9 100.0h0M173.9 96.7h0M164.2 102.4h0M182.0 95.5h0M169.8 98.5h0M167.4 99.5h0M174.7 106.0h0M180.4 94.4h0M171.1 97.2h0M179.5 105.0h0M166.1 99.2h0M171.2 101.5h0M180.3 92.8h0M166.9 89.7h0M175.3 101.2h0M176.5 88.2h0M167.1 101.1h0M171.2 93.1h0M180.9 87.6h0M163.6 99.7h0M164.0 102.1h0M168.4 98.9h0M169.0 87.4h0M177.4 104.4h0M169.4 93.5h0M168.8 98.3h0M172.8 98.9h0M173.0 97.2h0M172.8 104.6h0M178.9 99.6h0M167.4 99.9h0M166.4 106.7h0M178.6 94.6h0M181.1 94.5h0M177.2 101.6h0M170.8 97.6h0M157.9 96.9h0M189.5 91.8h0M174.3 102.6h0M170.1 103.0h0M174.2 97.6h0M173.9 95.2h0M165.5 99.7h0M171.7 93.2h0M167.9 102.3h0M168.1 99.8h0M159.8 99.5h0M171.4 94.5h0M169.2 104.1h0M177.7 86.5h0M175.7 94.0h0M157.1 103.5h0M176.3 96.1h0M167.8 105.3h0M169.0 95.0h0M160.7 101.9h0M177.6 97.4h0M168.4 94.7h0M173.7 101.0h0M169.4 98.4h0M176.8 95.7h0M160.9 107.4h0M162.4 96.5h0M174.9 92.3h0M165.8 98.9h0" stroke="#ff00ff" stroke-width="1.9" stroke-linecap="round"/><path d="M179.6 90.8h0M177.4 87.1h0M177.9 91.1h0M178.9 86.5h0M180.4 90.1h0M175.1 95.9h0M177.1 92.0h0M171.1 94.4h0M168.6 89.9h0M169.7 86.9h0M183.6 89.6h0M170.2 89.9h0M179.4 94.7h0M183.4 97.0h0M175.7 88.8h0M184.0 90.0h0M184.9 90.6h0M181.3 90.0h0M187.0 87.3h0M180.0 91.4h0M174.6 92.2h0M179.6 92.2h0M175.7 87.5h0M172.3 90.7h0M172.4 86.5h0M186.8 93.8h0M175.4 88.0h0M177.4 90.3h0M174.9 89.7h0M178.1 89.3h0M176.6 87.9h0M175.9 86.5h0M172.7 96.3h0M171.9 91.9h0M174.6 91.9h0M178.7 97.4h0M185.9 90.8h0M181.8 92.7h0M184.8 91.2h0M179.5 94.7h0" stroke="#ff00ff" stroke-width="1.9" stroke-linecap="round"/><path d="M90.9 90.3h0M88.0 96.2h0M97.1 72.6h0M95.8 95.8h0M80.5 85.1h0M94.4 96.7h0M84.5 85.6h0M87.7 81.3h0M97.9 95.1h0M87.5 105.4h0M95.2 97.3h0M90.6 101.7h0M105.1 97.6h0M92.4 77.5h0M85.6 95.8h0M86.0 96.5h0M87.2 91.2h0M93.8 86.3h0M92.9 104.1h0M99.0 94.1h0M94.0 98.5h0M93.7 102.2h0M95.0 91.7h0M92.1 100.4h0M94.8 96.4h0M97.9 76.8h0M97.9 89.8h0M89.5 97.1h0M81.8 69.0h0M87.8 87.5h0M94.7 90.7h0M78.5 102.8h0M89.9 100.7h0M95.7 96.1h0M89.3 106.7h0M85.9 82.2h0M103.9 101.7h0M101.6 94.4h0M91.3 83.4h0M101.2 103.7h0M101.1 102.3h0M85.8 101.1h0M108.5 91.3h0M87.0 100.6h0M91.2 95.0h0M86.0 102.5h0M93.4 93.4h0M84.6 95.5h0M92.8 86.2h0M99.7 100.2h0M94.2 102.4h0M91.2 93.4h0M102.6 106.5h0M87.2 96.6h0M98.9 99.7h0M90.9 90.8h0M94.2 92.1h0M93.0 97.8h0M93.6 99.0h0M92.5 91.2h0M87.9 87.9h0M89.2 105.5h0M95.6 97.4h0M92.1 85.6h0M85.5 103.9h0M88.4 100.7h0M88.4 95.6h0M92.4 106.8h0M93.9 99.2h0M93.4 84.8h0M88.7 97.1h0M92.9 81.9h0M84.1 90.5h0M78.5 96.2h0M92.4 105.7h0M82.3 90.1h0M86.8 97.1h0M85.1 106.6h0M96.7 97.6h0M85.1 106.2h0M94.5 96.0h0M89.6 91.3h0M84.9 97.2h0M82.8 88.4h0M95.6 102.0h0M95.1 100.9h0M97.6 87.0h0M104.2 93.9h0M94.4 101.3h0M94.4 89.7h0M91.9 90.1h0M93.3 103.7h0M90.4 99.5h0M87.0 81.7h0M105.2 103.7h0M80.9 92.8h0M94.2 102.0h0M95.4 100.1h0M93.5 98.1h0M86.5 88.0h0M91.4 106.8h0M89.7 98.7h0M85.8 94.8h0M92.3 94.0h0M90.0 103.9h0M89.1 104.9h0M96.9 102.9h0M85.9 104.5h0M95.3 104.3h0M88.7 92.6h0M95.2 96.5h0M93.0 100.9h0M94.0 90.9h0M86.3 87.4h0M87.6 93.8h0M87.1 91.3h0M93.6 96.3h0M97.2 106.0h0M99.3 100.3h0M89.3 95.2h0M93.0 80.9h0M82.3 90.8h0M78.5 98.6h0M87.0 104.4h0M88.3 103.4h0M82.7 90.4h0M81.3 95.3h0M95.8 91.4h0M87.4 102.3h0M81.9 104.1h0M107.0 85.5h0M93.5 94.6h0M90.4 105.4h0M96.7 105.1h0M87.6 102.5h0M102.4 80.6h0M82.7 106.9h0M84.2 101.2h0M91.5 81.6h0M87.6 99.1h0M101.2 98.7h0M82.3 85.9h0M87.8 91.4h0M93.8 103.4h0M95.9 100.5h0M98.6 105.0h0M94.5 104.5h0M106.2 94.9h0M89.3 95.0h0M93.4 101.0h0M97.7 105.6h0M90.3 83.2h0M90.5 95.3h0M89.4 99.3h0M88.2 91.4h0M85.2 87.0h0M88.8 88.3h0M82.5 96.0h0M94.7 86.1h0M82.3 104.5h0M105.2 96.7h0M102.9 75.0h0M99.2 100.8h0M90.9 82.0h0M88.6 104.9h0M99.9 106.7h0M93.4 95.2h0M95.7 93.4h0M87.7 102.1h0M98.9 98.8h0M87.2 99.0h0M92.9 84.8h0M81.4 103.9h0M88.1 76.0h0M95.4 96.1h0M89.4 101.2h0M89.4 98.5h0M97.1 95.5h0M91.7 100.9h0M100.0 103.2h0M78.5 80.2h0M95.8 99.0h0M95.4 89.6h0M82.5 103.0h0M84.0 98.1h0M97.7 99.5h0M85.5 79.0h0M88.2 101.1h0M95.9 102.6h0M90.1 98.1h0M95.2 101.1h0M86.7 103.1h0M94.0 97.8h0M99.0 102.2h0M94.2 103.6h0M78.5 71.7h0M96.3 104.5h0M92.5 97.8h0M86.5 94.2h0M100.9 101.4h0M81.2 99.4h0M103.9 99.4h0M88.2 91.1h0M102.0 105.2h0M91.9 83.7h0M83.8 95.8h0M92.8 93.8h0M94.2 102.8h0M95.6 94.7h0M98.8 105.3h0M86.5 99.9h0M95.2 103.5h0M96.8 97.8h0M90.5 94.4h0M86.3 102.6h0M86.2 102.9h0M96.9 106.4h0M97.2 75.6h0M87.0 103.2h0M83.8 86.8h0M99.9 86.7h0M82.4 84.2h0M93.2 82.4h0M87.1 95.3h0M81.1 99.5h0M92.9 93.1h0M91.0 103.7h0M101.2 98.2h0M106.4 93.3h0M91.0 98.0h0M98.6 100.4h0M98.7 81.0h0M88.9 106.4h0M86.7 73.9h0M102.2 69.0h0M89.9 87.7h0M92.0 106.3h0M90.3 92.6h0M91.3 104.7h0M88.4 98.8h0M96.8 105.8h0M100.0 93.0h0M89.8 93.3h0M83.5 103.4h0M92.5 106.8h0M82.8 105.5h0M88.1 105.4h0M99.9 98.7h0M106.7 106.8h0M94.5 99.8h0" stroke="#f8187a" stroke-width="1.9" stroke-linecap="round"/><path d="M120.6 92.5h0M109.4 98.0h0M117.0 94.0h0M117.6 90.3h0M109.2 95.8h0M110.8 98.0h0M118.3 100.8h0M121.2 93.4h0M113.8 96.5h0" stroke="#f8187a" stroke-width="1.9" stroke-linecap="round"/><path d="M85.8 105.2h0M88.5 106.9h0M95.4 105.1h0M80.1 103.0h0M79.9 107.4h0M90.9 104.1h0M94.0 105.5h0M89.3 103.7h0M78.5 104.0h0M92.6 104.9h0M83.9 106.8h0M96.6 106.7h0M91.8 104.7h0M94.1 106.3h0M96.5 105.1h0M89.0 105.7h0M97.7 105.8h0M100.4 106.4h0M95.0 104.7h0M101.0 105.4h0M88.4 105.9h0M98.3 105.7h0M94.2 104.5h0M86.1 108.0h0M91.9 104.9h0M89.0 106.6h0M88.9 105.8h0M93.0 107.3h0M99.3 103.0h0M90.4 108.4h0M93.2 105.3h0M83.0 103.8h0M93.1 105.7h0M99.8 108.5h0M97.6 106.3h0M95.5 103.8h0M89.0 104.9h0M86.2 107.4h0M91.8 103.6h0M83.8 105.3h0M84.5 105.1h0M98.5 108.5h0M86.5 105.2h0M104.0 107.4h0M83.2 104.6h0M95.2 104.4h0M84.9 107.0h0M93.5 106.4h0M85.7 103.2h0M92.7 106.4h0M91.4 106.5h0M89.5 104.7h0M95.7 105.9h0M102.1 105.9h0M88.6 104.9h0M98.1 104.7h0M93.0 104.6h0M92.2 105.2h0M106.5 103.7h0M78.5 105.5h0M88.0 103.5h0M80.8 105.7h0M90.4 105.4h0M90.9 104.1h0M108.5 106.7h0M94.7 108.2h0M104.0 107.4h0M100.8 103.7h0M89.6 107.3h0M95.5 105.9h0M103.2 105.5h0M93.5 104.7h0M93.8 105.5h0M95.7 107.5h0M82.7 106.3h0M87.2 105.0h0M94.6 104.6h0M95.9 105.0h0M86.5 106.4h0M90.3 108.1h0M91.6 104.1h0M91.4 105.5h0M96.9 105.0h0M93.1 104.5h0M93.5 106.1h0M83.3 106.3h0M85.6 103.6h0M94.5 104.1h0M82.1 107.2h0M94.1 106.0h0M88.2 106.3h0M87.2 104.9h0M96.6 105.0h0M88.0 106.2h0M86.9 104.9h0M88.0 104.0h0M92.8 105.6h0M108.5 106.8h0M78.7 104.1h0M92.3 107.0h0" stroke="#ff1830" stroke-width="1.9" stroke-linecap="round"/><path d="M188.6 83.9h0M179.0 83.0h0M184.3 75.4h0M184.0 85.2h0M188.2 74.9h0M188.4 84.5h0M176.3 80.5h0M176.0 76.1h0M190.6 75.1h0M185.0 78.4h0M186.9 79.6h0M186.3 76.7h0M193.7 82.0h0M176.9 73.9h0M191.0 79.6h0M179.3 79.7h0M188.8 71.9h0M192.5 81.0h0M175.8 74.5h0M186.8 70.8h0M182.6 77.1h0M182.5 78.7h0M184.6 83.4h0M177.8 77.7h0M178.4 85.8h0M188.3 85.6h0M189.5 84.2h0M180.8 85.1h0M175.4 81.1h0M196.5 77.4h0M191.0 82.4h0M186.5 83.7h0M178.0 80.7h0M180.7 78.7h0M185.8 73.2h0M178.4 82.5h0M194.1 81.1h0M185.1 74.3h0M186.7 80.1h0M178.0 82.7h0M178.7 79.2h0M179.5 82.9h0M186.0 82.8h0M182.7 73.6h0M182.5 78.4h0M186.2 81.7h0M185.7 83.5h0M193.4 85.5h0M183.1 71.7h0M178.1 79.4h0M184.2 82.6h0M193.2 84.7h0M180.9 86.7h0M184.6 75.8h0M182.1 78.1h0M186.8 75.3h0M185.9 83.1h0M179.3 74.2h0M182.9 84.6h0M190.0 83.6h0M191.0 81.7h0M189.9 70.8h0M189.6 76.9h0M182.3 82.8h0M182.1 73.8h0M190.0 78.7h0M177.1 79.2h0M183.9 83.4h0M173.0 80.8h0M182.0 80.8h0M180.0 77.8h0M176.9 79.7h0M187.8 79.1h0M179.8 82.7h0M182.1 78.9h0M182.7 84.0h0M179.8 72.6h0M193.0 84.7h0M181.3 79.0h0M185.5 84.4h0M176.3 80.0h0M181.4 83.2h0M182.3 85.9h0M182.4 77.4h0M180.7 80.0h0M185.2 79.0h0M193.8 80.5h0M183.5 72.9h0M183.5 79.0h0M181.9 78.6h0M196.5 76.4h0M194.1 78.9h0M187.7 73.3h0M188.6 85.5h0M180.0 81.5h0M183.4 87.5h0M185.6 76.0h0M185.0 74.8h0M179.1 80.8h0M179.6 72.7h0M187.4 80.6h0M186.2 76.7h0M171.5 78.3h0M184.9 80.7h0M192.0 79.8h0M180.4 87.4h0M185.8 82.3h0M175.5 74.3h0M189.4 83.7h0M177.5 74.1h0M176.7 80.0h0M182.4 74.5h0M196.5 76.2h0M180.6 85.1h0M176.6 77.3h0M187.1 77.0h0M185.7 77.3h0M194.4 78.4h0M176.6 85.6h0M174.6 74.8h0M182.4 74.5h0M186.6 82.1h0M186.5 73.0h0M190.9 78.1h0M175.2 84.3h0M179.3 79.6h0M183.5 77.6h0M189.4 76.7h0M187.2 75.8h0M181.7 77.2h0M178.1 80.2h0M189.7 84.8h0M190.1 83.6h0M196.5 77.3h0M183.2 76.6h0M194.2 82.5h0M177.0 72.1h0M181.0 77.8h0M180.2 78.3h0M181.5 75.0h0M179.0 75.5h0M181.0 81.0h0M184.0 72.7h0M181.6 75.8h0M188.3 76.9h0M183.8 79.9h0M184.3 73.9h0M193.3 84.1h0M186.2 78.3h0M185.3 78.5h0M184.2 78.1h0M184.7 76.8h0M187.8 75.5h0M179.4 84.3h0M191.3 80.4h0M193.9 79.1h0M191.3 83.7h0M181.3 76.6h0M174.6 82.1h0M181.7 79.6h0M185.3 75.8h0M189.3 82.7h0M183.2 73.3h0M182.5 82.2h0M193.6 75.9h0M180.3 81.2h0M190.8 85.2h0M189.8 81.9h0M176.2 77.0h0M186.0 79.4h0M180.9 78.0h0M178.6 74.6h0M173.1 74.9h0M174.8 79.7h0M186.8 81.7h0M182.0 72.2h0M186.0 79.2h0M177.9 81.6h0M182.4 79.9h0M182.7 75.3h0M174.9 83.7h0M174.2 74.4h0M187.0 82.1h0M185.2 86.1h0M178.7 71.0h0M183.7 80.5h0M188.3 80.7h0M195.4 80.4h0M178.9 76.3h0M188.1 78.2h0M196.5 73.7h0M184.7 80.0h0M193.2 81.6h0M168.6 76.7h0M193.1 75.6h0M184.3 77.5h0M172.9 79.4h0M189.1 79.7h0M190.7 79.0h0M191.7 79.7h0M191.6 74.0h0M184.1 70.8h0M179.8 82.0h0M181.5 85.3h0M184.1 73.6h0M186.8 76.7h0M181.4 80.6h0M184.6 83.3h0M189.6 82.1h0M186.3 84.7h0M196.5 79.2h0M196.5 81.1h0M177.3 81.1h0M180.9 77.6h0M176.4 84.3h0M177.2 82.0h0M187.6 83.4h0M178.3 77.8h0M177.9 83.6h0M182.7 75.1h0M189.2 81.0h0M182.2 70.8h0M182.1 75.2h0M189.9 82.4h0M187.2 77.5h0M187.1 80.1h0M190.1 72.7h0M178.2 85.8h0M185.6 81.8h0M180.5 79.3h0" stroke="#fa1464" stroke-width="1.9" stroke-linecap="round"/><path d="M197.9 112.4h0M218.3 106.8h0M211.6 105.1h0M180.1 114.3h0M221.1 114.7h0M199.0 108.1h0M187.2 108.6h0M218.6 108.8h0M197.5 107.3h0M208.9 115.3h0M211.8 110.4h0M187.9 112.5h0M221.8 111.3h0M203.7 105.1h0M182.0 104.9h0M202.6 105.8h0M180.3 110.0h0M221.6 111.5h0M208.1 115.9h0M195.8 114.8h0M213.9 112.9h0M213.6 108.6h0" stroke="#000000" stroke-width="1.9" stroke-linecap="round"/><path d="M189.1 111.8h0M207.1 114.3h0M189.1 115.1h0M210.5 107.2h0M208.7 113.5h0M177.6 108.5h0M212.5 104.8h0M176.3 105.3h0M187.7 105.5h0M221.2 111.6h0" stroke="#000066" stroke-width="1.9" stroke-linecap="round"/><path d="M206.0 110.1h0M215.5 110.5h0M190.1 113.2h0M211.6 111.1h0" stroke="#0000ff" stroke-width="1.9" stroke-linecap="round"/><path d="M126.4 108.9h0M94.4 109.8h0M90.7 109.6h0M120.8 112.1h0M120.5 108.8h0M87.2 113.9h0M95.4 108.7h0M103.5 111.2h0M82.6 112.2h0M96.9 113.7h0M115.7 111.7h0M115.6 113.1h0" stroke="#000033" stroke-width="1.9" stroke-linecap="round"/><path d="M104.5 111.2h0M89.9 110.3h0M99.3 111.1h0M108.0 111.1h0M104.5 108.1h0M116.3 110.0h0" stroke="#0000ff" stroke-width="1.9" stroke-linecap="round"/><path d="M158.0 129.1h0M179.1 130.5h0M136.1 129.6h0M184.2 127.5h0M147.5 129.9h0M127.3 129.4h0M108.1 128.3h0M191.9 127.9h0M210.7 128.9h0M181.6 129.5h0M104.8 129.2h0M178.1 127.6h0M147.8 128.0h0M211.1 129.9h0M72.4 129.4h0M188.2 130.1h0" stroke="#0000ff" stroke-width="1.9" stroke-linecap="round"/><path d="M128.8 129.9h0M126.6 146.0h0M127.3 144.6h0M107.5 140.9h0M134.2 140.9h0M128.3 145.8h0M132.2 143.0h0" stroke="#00ff00" stroke-width="1.9" stroke-linecap="round"/><path d="M122.5 135.6h0M119.8 148.2h0M140.3 141.0h0M99.7 134.6h0" stroke="#00ff00" stroke-width="1.9" stroke-linecap="round"/><path d="M110.1 149.0h0M115.7 146.5h0M116.8 129.7h0" stroke="#44ee22" stroke-width="1.9" stroke-linecap="round"/><path d="M140.6 139.2h0" stroke="#22ff44" stroke-width="1.9" stroke-linecap="round"/><path d="M131.3 135.1h0M119.1 142.5h0" stroke="#0000ff" stroke-width="1.9" stroke-linecap="round"/><path d="M118.2 134.7h0M130.3 141.3h0M108.0 148.6h0" stroke="#1030ff" stroke-width="1.9" stroke-linecap="round"/><path d="M114.6 129.6h0M120.7 145.6h0M129.4 140.8h0M128.4 134.4h0M135.0 141.5h0M112.1 146.8h0" stroke="#000000" stroke-width="1.9" stroke-linecap="round"/><path d="M132.3 132.2h0M107.0 143.0h0" stroke="#000000" stroke-width="1.9" stroke-linecap="round"/><path d="M118.1 132.7h0" stroke="#00ffff" stroke-width="1.9" stroke-linecap="round"/><path d="M121.9 142.7h0M160.2 141.0h0" stroke="#40ffd0" stroke-width="1.9" stroke-linecap="round"/><path d="M137.5 147.2h0M117.4 143.3h0M115.6 142.1h0M124.5 133.2h0M132.2 139.8h0" stroke="#c8ff00" stroke-width="1.9" stroke-linecap="round"/><path d="M113.0 134.3h0M135.9 139.3h0M139.5 137.9h0M127.3 129.9h0M113.3 140.7h0M110.9 148.5h0" stroke="#000080" stroke-width="1.9" stroke-linecap="round"/><path d="M130.8 143.1h0M126.5 137.6h0" stroke="#00ff00" stroke-width="1.9" stroke-linecap="round"/><path d="M111.0 136.7h0" stroke="#60ff00" stroke-width="1.9" stroke-linecap="round"/><path d="M211.7 145.7h0M210.0 135.9h0M207.8 129.6h0M187.2 134.9h0M200.2 149.1h0M204.9 145.2h0" stroke="#00ff00" stroke-width="1.9" stroke-linecap="round"/><path d="M189.9 144.7h0M203.7 130.9h0M200.6 138.4h0M210.8 147.2h0" stroke="#00ff00" stroke-width="1.9" stroke-linecap="round"/><path d="M202.0 130.0h0M187.4 138.0h0M215.8 136.3h0M174.7 148.2h0M215.6 132.0h0" stroke="#00e400" stroke-width="1.9" stroke-linecap="round"/><path d="M205.4 139.0h0" stroke="#44ee22" stroke-width="1.9" stroke-linecap="round"/><path d="M222.5 140.9h0M194.4 147.8h0M187.5 130.0h0M207.1 138.7h0M205.8 130.8h0M195.9 132.0h0" stroke="#0000ff" stroke-width="1.9" stroke-linecap="round"/><path d="M195.5 137.3h0M201.7 134.2h0M186.8 130.5h0M197.0 143.7h0M209.8 139.2h0" stroke="#1030ff" stroke-width="1.9" stroke-linecap="round"/><path d="M191.4 128.7h0M185.6 135.6h0M206.6 149.6h0M192.9 134.7h0M177.1 132.4h0" stroke="#000000" stroke-width="1.9" stroke-linecap="round"/><path d="M198.3 136.8h0M201.8 128.4h0M197.8 128.7h0M197.9 148.4h0" stroke="#000000" stroke-width="1.9" stroke-linecap="round"/><path d="M204.9 129.4h0M197.5 138.2h0" stroke="#00ffff" stroke-width="1.9" stroke-linecap="round"/><path d="M194.0 149.2h0M210.5 145.2h0" stroke="#c8ff00" stroke-width="1.9" stroke-linecap="round"/><path d="M187.6 139.5h0M191.1 142.2h0M191.7 143.4h0" stroke="#000080" stroke-width="1.9" stroke-linecap="round"/><path d="M205.9 130.1h0M204.1 147.2h0M201.5 136.5h0M199.5 147.4h0M192.7 141.9h0" stroke="#00ff00" stroke-width="1.9" stroke-linecap="round"/><path d="M197.5 149.3h0M212.6 131.7h0M199.9 138.3h0M196.4 146.1h0M183.6 140.3h0M181.4 135.9h0M189.0 128.5h0" stroke="#60ff00" stroke-width="1.9" stroke-linecap="round"/><path d="M151.8 148.9h0M143.2 147.5h0M175.7 143.7h0M195.9 148.1h0M219.7 146.6h0" stroke="#00ff00" stroke-width="1.9" stroke-linecap="round"/><path d="M215.4 141.1h0M81.4 144.6h0M154.6 145.3h0" stroke="#00ff00" stroke-width="1.9" stroke-linecap="round"/><path d="M91.2 128.1h0M93.1 146.4h0M201.7 132.0h0" stroke="#00e400" stroke-width="1.9" stroke-linecap="round"/><path d="M217.0 149.9h0M89.7 137.6h0" stroke="#44ee22" stroke-width="1.9" stroke-linecap="round"/><path d="M201.1 134.5h0M174.6 136.1h0" stroke="#22ff44" stroke-width="1.9" stroke-linecap="round"/><path d="M193.1 145.8h0M183.7 145.8h0M183.0 138.3h0" stroke="#1030ff" stroke-width="1.9" stroke-linecap="round"/><path d="M113.7 135.1h0M214.1 146.9h0" stroke="#000000" stroke-width="1.9" stroke-linecap="round"/><path d="M75.2 132.5h0M99.2 129.0h0M204.2 143.5h0" stroke="#000000" stroke-width="1.9" stroke-linecap="round"/><path d="M88.9 142.6h0M121.3 144.7h0M198.1 137.0h0" stroke="#00ffff" stroke-width="1.9" stroke-linecap="round"/><path d="M185.5 143.8h0M150.6 138.3h0M83.2 134.8h0" stroke="#40ffd0" stroke-width="1.9" stroke-linecap="round"/><path d="M189.5 138.2h0" stroke="#c8ff00" stroke-width="1.9" stroke-linecap="round"/><path d="M197.2 130.3h0M77.2 136.0h0M76.2 143.4h0" stroke="#000080" stroke-width="1.9" stroke-linecap="round"/><path d="M128.6 134.9h0M204.6 143.9h0M103.0 133.8h0M141.9 136.4h0" stroke="#00ff00" stroke-width="1.9" stroke-linecap="round"/><path d="M134.0 138.3h0M211.8 128.2h0M211.1 145.6h0" stroke="#60ff00" stroke-width="1.9" stroke-linecap="round"/><path d="M69.5 57.3h0M68.0 57.3h0M69.5 57.5h0M68.5 57.6h0M68.3 57.0h0M67.9 57.8h0M69.0 57.6h0M69.0 57.6h0M68.8 57.7h0M67.7 57.4h0M69.5 57.6h0M68.3 57.9h0M68.2 57.9h0M69.1 57.7h0" stroke="#00006e" stroke-width="1.9" stroke-linecap="round"/><path d="M76.7 56.2h0M82.4 55.5h0M76.9 55.4h0M80.0 56.4h0M80.9 56.0h0M77.8 56.3h0M82.9 56.0h0M82.9 56.3h0M78.0 55.7h0M77.4 56.0h0M80.7 56.3h0M79.8 56.2h0M80.4 55.8h0M80.5 56.1h0M82.7 55.7h0M81.5 55.5h0M78.5 56.0h0M81.4 56.2h0M79.4 56.1h0M82.8 55.6h0M79.6 56.1h0M76.6 56.1h0M82.5 55.8h0M78.3 55.3h0" stroke="#0030ff" stroke-width="1.9" stroke-linecap="round"/><path d="M148.0 56.1h0M145.2 56.2h0M147.9 56.3h0M144.3 55.3h0M144.5 55.7h0M146.1 55.9h0M142.5 55.8h0M149.1 56.2h0M143.0 55.7h0M148.7 56.2h0M146.8 56.0h0M147.6 55.5h0M143.5 55.7h0M148.5 55.8h0M145.9 55.9h0M145.0 56.1h0M143.4 55.9h0M143.3 56.1h0M148.3 55.5h0M149.1 55.1h0M145.1 55.8h0M147.3 56.0h0M147.1 55.8h0M145.6 55.6h0" stroke="#0030ff" stroke-width="1.9" stroke-linecap="round"/><path d="M155.6 57.7h0M154.5 57.6h0M152.3 57.7h0M154.2 57.7h0M155.1 57.7h0M154.4 57.6h0M154.7 57.2h0M156.3 58.0h0M154.4 57.5h0M157.6 57.6h0M154.5 57.5h0M155.0 57.9h0M155.0 57.5h0M157.9 57.8h0M156.0 58.0h0M158.3 58.1h0M152.3 58.0h0M158.2 57.9h0M153.5 57.4h0M157.9 58.0h0M152.6 58.0h0M157.6 57.9h0" stroke="#00006e" stroke-width="1.9" stroke-linecap="round"/><path d="M218.6 57.9h0M222.0 57.4h0M221.6 57.9h0M221.6 58.1h0M219.8 57.6h0M218.4 57.9h0M218.7 57.8h0M221.4 57.9h0M219.6 57.4h0M218.6 57.7h0M222.1 57.9h0M220.4 57.7h0M219.5 58.0h0M219.3 57.8h0" stroke="#00006e" stroke-width="1.9" stroke-linecap="round"/><path d="M78.7 79.0h0M77.6 79.7h0M76.8 79.2h0M78.7 79.2h0M76.6 79.1h0M74.9 79.3h0M77.9 79.1h0M78.8 79.0h0M74.3 79.2h0M76.5 79.0h0M75.1 79.5h0M78.5 78.9h0M74.5 79.2h0M78.0 79.0h0M75.0 78.9h0M77.2 79.6h0M77.5 78.7h0M77.8 79.6h0" stroke="#2a9cf0" stroke-width="1.9" stroke-linecap="round"/><path d="M151.0 78.8h0M153.2 78.7h0M149.4 79.0h0M154.0 79.2h0M149.3 79.5h0M154.9 79.1h0M147.6 79.2h0M153.5 79.4h0M151.3 79.4h0M153.6 79.2h0M151.4 79.2h0M153.8 79.7h0M152.8 79.1h0M152.3 79.1h0M154.6 78.8h0M148.4 79.3h0M154.4 79.1h0M151.4 79.7h0M152.8 79.1h0M152.5 79.4h0M150.4 79.4h0M151.5 79.6h0" stroke="#00e6a0" stroke-width="1.9" stroke-linecap="round"/><path d="M179.5 78.9h0M190.8 80.0h0M184.7 78.0h0M184.2 77.9h0M183.4 80.2h0M183.1 77.1h0M183.3 81.3h0M175.5 79.5h0M186.6 77.4h0M184.9 78.3h0M180.9 78.7h0M184.4 79.6h0M193.6 80.4h0M186.1 79.5h0M183.1 77.6h0M191.3 84.3h0M181.5 82.7h0M184.0 80.4h0M182.5 82.9h0M183.7 81.0h0M187.5 79.3h0M186.9 80.3h0M181.8 87.9h0M184.1 83.0h0M185.0 83.1h0" stroke="#ff0a30" stroke-width="1.9" stroke-linecap="round"/></g><path d="M71.5 101.7 L72.8 99.9 L74.0 98.1 L75.3 96.3 L76.5 94.6 L77.8 92.8 L79.0 91.1 L80.3 89.4 L81.5 87.7 L82.8 86.1 L84.1 84.6 L85.3 83.0 L86.6 81.5 L87.8 80.1 L89.1 78.7 L90.3 77.4 L91.6 76.2 L92.8 75.0 L94.1 74.0 L95.4 72.9 L96.6 72.0 L97.9 71.1 L99.1 70.4 L100.4 69.7 L101.6 69.1 L102.9 68.6 L104.2 68.1 L105.4 67.8 L106.7 67.6 L107.9 67.4 L109.2 67.4 L110.4 67.4 L111.7 67.6 L112.9 67.8 L114.2 68.1 L115.5 68.6 L116.7 69.1 L118.0 69.7 L119.2 70.4 L120.5 71.1 L121.7 72.0 L123.0 72.9 L124.2 74.0 L125.5 75.0 L126.8 76.2 L128.0 77.4 L129.3 78.7 L130.5 80.1 L131.8 81.5 L133.0 83.0 L134.3 84.6 L135.5 86.1 L136.8 87.7 L138.1 89.4 L139.3 91.1 L140.6 92.8 L141.8 94.6 L143.1 96.3 L144.3 98.1 L145.6 99.9 L146.8 101.7 L148.1 103.5 L149.4 105.3 L150.6 107.1 L151.9 108.8 L153.1 110.6 L154.4 112.3 L155.6 114.0 L156.9 115.7 L158.2 117.3 L159.4 118.9 L160.7 120.4 L161.9 121.9 L163.2 123.3 L164.4 124.7 L165.7 126.0 L166.9 127.2 L168.2 128.4 L169.5 129.4 L170.7 130.5 L172.0 131.4 L173.2 132.3 L174.5 133.0 L175.7 133.7 L177.0 134.3 L178.2 134.8 L179.5 135.3 L180.8 135.6 L182.0 135.8 L183.3 136.0 L184.5 136.0 L185.8 136.0 L187.0 135.8 L188.3 135.6 L189.5 135.3 L190.8 134.8 L192.1 134.3 L193.3 133.7 L194.6 133.0 L195.8 132.3 L197.1 131.4 L198.3 130.5 L199.6 129.4 L200.9 128.4 L202.1 127.2 L203.4 126.0 L204.6 124.7 L205.9 123.3 L207.1 121.9 L208.4 120.4 L209.6 118.9 L210.9 117.3 L212.2 115.7 L213.4 114.0 L214.7 112.3 L215.9 110.6 L217.2 108.8 L218.4 107.1 L219.7 105.3 L220.9 103.5 L222.2 101.7" stroke="#f0584c" stroke-width="0.8" fill="none" clip-path="url(#c71)"/><clipPath id="c71"><rect x="71.5" y="52.0" width="150.7" height="99.5"/></clipPath><path d="M71.5 52.0V151.5H222.2" stroke="#9a9a9a" stroke-width="1" fill="none"/><path d="M71.5 151.5v-1.4M90.3 151.5v-1.4M109.2 151.5v-1.4M128.0 151.5v-1.4M146.8 151.5v-1.4M165.7 151.5v-1.4M184.5 151.5v-1.4M203.4 151.5v-1.4M222.2 151.5v-1.4M71.5 73.9h1.4M71.5 97.4h1.4M71.5 120.8h1.4M71.5 144.2h1.4" stroke="#888" stroke-width="0.6"/></svg><div class="t c" style="left:71.5px;top:159.2px;font-size:5.9px">0</div><div class="t c" style="left:90.3px;top:159.2px;font-size:5.9px">45</div><div class="t c" style="left:109.2px;top:159.2px;font-size:5.9px">90</div><div class="t c" style="left:128.0px;top:159.2px;font-size:5.9px">135</div><div class="t c" style="left:146.8px;top:159.2px;font-size:5.9px">180</div><div class="t c" style="left:165.7px;top:159.2px;font-size:5.9px">225</div><div class="t c" style="left:184.5px;top:159.2px;font-size:5.9px">270</div><div class="t c" style="left:203.4px;top:159.2px;font-size:5.9px">315</div><div class="t c" style="left:222.2px;top:159.2px;font-size:5.9px">360</div><div class="t" style="right:480.3px;top:70.3px;font-size:5.9px">10<sup style="font-size:4.2px;vertical-align:2.6px">2</sup></div><div class="t" style="right:480.3px;top:93.8px;font-size:5.9px">10<sup style="font-size:4.2px;vertical-align:2.6px">1</sup></div><div class="t" style="right:480.3px;top:117.2px;font-size:5.9px">10<sup style="font-size:4.2px;vertical-align:2.6px">0</sup></div><div class="t" style="right:480.3px;top:140.7px;font-size:5.9px">10<sup style="font-size:4.2px;vertical-align:2.6px">-1</sup></div><div class="t c" style="left:146.8px;top:166.8px;font-size:6.3px">Phase Angle (degrees) [x]</div><div class="r90" style="left:53.7px;top:101.3px;font-size:6.3px">Amplitude (mV) [y]</div><div class="a" style="left:332.7px;top:52.0px;width:150.7px;height:99.5px;background:#fff"></div><svg width="550" height="312"><g><path d="M357.7 97.0h0M359.9 93.2h0M355.6 95.8h0M351.0 85.5h0M354.3 90.3h0M350.3 98.5h0M358.2 85.5h0M367.8 101.2h0M354.0 86.9h0M353.0 100.7h0M361.4 91.8h0M360.4 100.8h0M358.5 97.2h0M350.7 88.0h0M357.5 103.4h0M362.9 104.4h0M347.6 96.1h0M354.3 95.0h0M343.4 95.6h0M348.0 91.1h0M343.9 102.5h0M355.9 93.5h0M348.2 96.2h0M359.7 92.1h0M358.9 93.1h0M356.3 89.5h0M341.7 103.4h0M353.7 95.7h0M357.3 101.8h0M358.5 96.6h0M346.2 92.7h0M354.1 94.7h0M350.4 93.4h0M351.6 96.5h0M365.7 94.4h0M351.6 94.9h0M357.5 88.9h0M364.3 92.1h0M353.3 105.6h0M356.9 92.8h0M358.5 90.7h0M358.2 98.4h0M348.5 104.2h0M358.3 88.5h0M367.9 95.4h0M346.1 93.0h0M364.1 86.8h0M358.6 100.5h0M352.9 96.4h0M372.7 96.9h0M363.4 92.4h0M348.7 99.0h0M358.3 93.5h0M362.0 95.7h0M356.3 90.4h0M362.8 89.8h0M357.2 103.8h0M362.7 93.7h0M368.5 98.1h0M352.6 96.3h0M359.2 94.1h0M354.2 93.7h0M358.7 100.0h0M348.8 94.8h0M353.4 95.7h0M356.2 96.6h0M364.4 103.0h0M366.3 100.2h0M347.8 98.6h0M351.7 93.4h0M362.6 88.9h0M342.8 101.7h0M354.2 101.8h0M357.0 95.7h0M367.1 99.5h0M362.9 100.8h0M355.2 101.1h0M354.9 101.6h0M355.8 94.0h0M369.1 104.8h0M354.5 89.6h0M355.4 101.2h0M360.3 99.2h0M356.8 101.3h0M356.2 106.8h0M349.3 104.7h0M357.6 90.2h0M354.4 87.2h0M366.4 101.0h0M362.6 90.9h0M357.5 96.4h0M362.7 101.1h0M355.2 87.5h0M365.6 85.5h0M357.7 97.9h0M362.1 96.7h0M348.0 95.1h0M360.3 96.7h0M345.0 91.8h0M342.4 88.2h0M355.4 95.6h0M351.0 91.2h0M358.9 87.5h0M374.5 99.3h0M351.5 96.2h0M353.0 98.7h0M359.2 91.1h0M361.4 92.9h0M356.4 91.0h0M356.2 91.6h0M363.0 97.6h0M361.6 92.2h0M349.9 98.5h0M357.1 98.4h0M358.0 107.6h0M349.8 88.8h0M359.6 101.4h0M351.3 96.0h0M365.0 96.4h0M359.1 88.5h0" stroke="#000" stroke-width="1.9" stroke-linecap="round"/><path d="M381.2 95.5h0M372.3 96.6h0M376.8 98.4h0M372.8 93.1h0M381.3 102.5h0M384.0 100.1h0M376.7 96.2h0M376.6 93.1h0M379.3 102.7h0M374.1 93.8h0" stroke="#000" stroke-width="1.9" stroke-linecap="round"/><path d="M405.0 123.4h0M403.4 124.5h0M469.8 122.1h0M471.3 123.4h0M385.0 124.9h0M376.1 123.7h0M431.5 124.0h0M362.7 122.8h0M393.2 123.9h0M441.1 123.5h0M333.6 125.7h0M449.2 124.6h0M443.5 123.0h0M391.2 119.5h0M370.1 124.5h0M414.2 124.6h0M377.3 121.9h0M456.7 120.2h0M421.9 121.6h0M379.0 124.9h0M454.7 121.7h0M424.4 122.7h0M352.6 123.8h0M395.2 125.4h0M406.6 123.4h0M475.4 123.2h0M381.1 122.5h0M400.4 126.0h0M480.2 125.1h0M397.0 123.2h0M457.6 121.2h0M347.3 122.1h0M392.2 124.3h0M360.5 122.2h0M466.2 124.8h0M416.1 124.0h0M365.7 123.9h0M346.6 124.4h0M396.3 124.2h0M347.3 122.0h0M406.0 122.9h0M442.7 126.8h0M379.6 121.5h0M358.0 122.6h0M387.3 125.1h0M357.8 123.1h0M460.1 122.1h0M347.2 121.3h0M444.6 124.3h0M383.1 125.0h0M442.7 125.6h0M449.1 123.5h0M353.1 125.1h0M446.9 121.7h0M475.5 123.7h0M418.3 122.3h0M430.1 123.7h0M381.4 124.6h0M359.0 125.1h0M445.1 121.8h0M456.6 125.4h0M363.8 122.6h0M349.8 121.8h0M385.9 123.1h0M427.2 121.1h0M387.8 123.4h0M478.3 123.9h0M452.2 123.1h0M471.0 124.3h0M423.2 122.9h0M446.8 123.4h0M476.3 121.1h0M338.1 123.5h0M419.5 122.0h0M361.0 122.7h0M452.8 123.3h0M367.8 123.7h0M444.7 120.8h0M382.9 120.9h0M431.1 122.9h0M435.2 124.2h0M469.9 124.0h0M464.4 124.8h0M398.8 125.5h0M436.7 124.2h0M360.2 123.4h0M347.5 121.7h0M440.5 121.9h0M469.6 122.7h0M445.4 123.8h0M410.7 123.8h0M427.8 123.4h0M442.9 123.2h0M418.7 124.4h0M387.5 123.7h0M461.2 123.9h0M388.5 123.9h0M469.2 122.5h0M453.4 121.8h0M452.4 124.2h0M458.6 124.1h0M481.7 123.0h0M482.2 122.7h0M408.4 126.8h0M389.7 122.2h0M443.4 123.1h0M478.9 123.8h0M427.8 121.6h0M336.6 123.6h0M338.5 126.3h0M402.8 124.9h0M451.6 124.4h0M466.7 124.3h0M389.3 123.6h0M410.8 124.9h0M410.2 123.2h0M347.0 122.7h0M332.8 123.6h0M411.8 124.8h0M408.8 123.9h0M463.1 124.5h0M360.1 120.2h0M461.4 125.3h0M373.7 126.8h0M414.1 125.5h0M439.5 122.9h0M354.6 122.0h0M475.6 123.8h0M477.3 121.8h0M479.2 124.6h0M333.0 122.6h0M429.9 124.9h0M434.0 125.6h0M465.6 120.1h0M363.1 123.9h0M351.4 122.3h0M454.9 121.1h0M372.2 122.4h0M342.7 123.0h0M346.6 125.1h0M430.1 121.0h0M413.6 125.1h0M445.6 126.6h0M454.6 124.4h0M333.1 124.3h0M473.6 123.4h0M465.5 121.5h0M473.6 124.3h0M448.8 124.0h0M390.6 124.6h0M370.2 126.8h0M470.5 124.6h0M396.2 124.1h0M406.4 125.9h0M438.2 121.2h0M436.6 121.6h0M437.4 122.8h0M426.9 122.4h0M409.5 124.5h0M448.5 122.9h0M392.5 126.2h0M372.3 125.8h0M470.0 124.6h0M460.4 122.8h0M441.1 124.4h0M358.1 124.7h0M339.6 121.7h0M472.0 124.0h0M475.1 124.5h0M373.8 123.7h0M427.7 125.9h0M335.5 125.3h0M392.1 122.1h0M439.0 123.6h0M387.2 122.1h0M454.6 124.3h0M470.5 122.0h0M353.4 124.9h0M436.6 124.0h0M389.5 125.0h0M359.0 123.2h0M385.4 121.1h0M405.5 126.2h0M468.0 123.1h0M448.3 125.6h0M333.5 124.1h0M341.2 124.5h0M482.8 126.3h0M416.8 123.9h0M424.8 125.6h0M386.0 121.0h0M458.2 124.8h0M416.8 123.0h0M422.2 123.2h0M370.4 123.4h0M450.0 124.0h0M365.0 126.1h0M353.4 120.4h0M422.9 123.5h0M458.4 122.3h0M377.0 125.3h0M378.3 122.7h0M355.3 124.1h0M423.8 122.8h0M449.1 124.5h0M351.7 125.0h0M413.5 122.8h0M414.2 123.5h0M348.8 121.1h0M412.8 123.9h0M373.8 124.8h0M362.8 122.5h0M481.5 125.2h0M346.3 120.1h0M384.6 120.4h0M426.1 121.2h0M393.8 122.6h0M335.4 123.4h0M463.5 123.3h0M368.8 123.3h0M394.9 124.6h0M469.9 122.6h0M479.1 121.4h0M470.8 121.4h0M394.8 126.8h0M445.1 119.6h0M460.8 123.1h0M362.5 125.7h0M479.1 124.2h0M348.0 122.1h0M432.0 123.4h0M368.8 124.8h0M365.2 125.3h0M353.4 122.0h0M475.0 124.6h0M352.1 123.8h0M470.5 125.2h0M357.7 125.6h0M382.4 122.9h0M364.6 121.1h0M481.9 124.0h0M346.7 126.2h0M462.7 124.5h0M378.1 123.8h0M476.5 126.8h0M446.0 121.7h0M372.5 124.8h0M409.7 122.5h0M357.0 123.5h0M394.2 123.5h0M336.7 125.8h0M435.6 121.9h0M422.3 122.5h0M373.7 120.9h0M334.7 124.2h0M474.5 122.7h0M351.6 124.1h0M382.2 121.7h0M336.5 122.8h0M390.6 125.1h0M393.4 123.1h0M413.3 124.4h0M381.6 124.2h0M370.4 122.8h0M451.4 120.9h0M374.8 125.0h0M382.8 123.7h0M406.9 125.0h0M374.0 120.2h0M442.4 120.8h0M345.4 120.0h0M381.5 122.0h0M396.3 125.1h0M371.7 124.3h0M459.5 123.3h0M386.2 123.6h0M396.2 124.6h0M403.5 122.9h0M458.1 124.0h0M365.7 123.6h0M457.8 119.9h0M475.9 122.8h0M372.9 125.6h0M358.3 122.8h0M451.8 123.2h0M379.9 122.4h0M367.0 122.6h0M344.5 125.2h0M425.4 123.0h0M474.2 121.8h0M465.8 118.5h0M421.6 122.5h0M398.9 120.3h0M480.1 120.5h0M432.4 124.7h0M477.1 124.5h0M436.6 120.3h0M437.9 124.8h0M438.6 124.1h0M351.7 122.1h0M370.8 124.6h0M342.6 120.8h0M473.5 121.5h0M482.9 121.1h0M424.1 121.6h0M356.3 124.8h0M351.5 121.3h0M400.1 121.6h0M391.7 121.9h0M362.2 123.7h0M346.2 122.9h0M430.5 124.8h0M452.3 122.3h0M342.2 121.3h0M379.4 122.6h0M378.1 123.5h0M414.6 121.9h0M424.0 123.8h0M394.7 126.3h0M463.5 122.5h0M391.7 123.5h0M378.5 125.5h0M448.5 122.3h0M459.8 122.0h0M465.2 121.6h0M358.3 124.0h0M362.4 124.2h0M402.6 123.1h0M478.8 123.4h0M426.4 125.4h0M426.8 124.8h0M382.0 121.1h0M482.3 123.4h0M360.3 123.5h0M417.2 124.5h0M434.6 123.0h0M455.0 122.3h0M455.5 122.6h0M391.1 120.5h0M373.6 123.3h0M480.6 122.4h0M416.2 124.1h0M375.3 121.7h0M353.6 122.7h0M454.0 121.8h0M460.8 121.6h0M418.7 124.5h0M390.7 122.6h0M432.3 124.1h0M480.7 121.6h0M420.0 123.5h0M451.6 120.6h0M465.9 122.6h0M447.0 122.5h0M406.2 124.3h0M359.6 123.6h0M437.9 123.1h0M458.3 124.7h0M478.1 123.6h0M355.7 124.2h0M349.9 124.6h0M428.8 123.2h0M457.6 122.9h0M344.2 123.9h0M425.4 122.7h0M372.9 123.9h0M483.6 125.1h0M387.3 124.7h0M345.1 122.7h0M450.9 121.3h0M378.1 123.2h0M396.0 123.1h0M352.4 125.1h0M382.7 122.7h0M352.8 123.0h0M371.6 124.5h0M420.1 122.6h0M377.8 123.1h0M433.5 126.1h0M468.8 125.7h0M419.7 124.3h0M337.0 123.8h0M477.6 121.8h0M362.6 124.2h0M385.0 123.4h0M412.2 123.7h0M426.1 122.5h0M384.4 123.3h0M399.2 123.0h0M427.4 123.8h0M401.7 125.6h0M375.5 123.9h0M394.7 120.7h0M390.8 121.8h0M376.8 120.8h0M423.4 122.1h0M410.1 124.2h0M394.8 124.0h0M439.8 122.4h0M455.4 123.7h0M430.7 122.1h0M384.2 121.1h0M474.1 121.1h0M348.4 122.0h0M454.3 125.6h0M396.3 121.2h0M392.6 125.3h0M460.0 125.4h0M431.6 123.0h0M479.8 123.2h0M465.3 122.3h0M350.3 123.3h0M408.7 124.4h0M448.6 123.3h0M345.2 124.9h0M414.6 125.2h0M482.6 123.9h0M368.8 123.8h0M350.3 123.2h0M376.4 123.9h0M384.7 121.5h0M375.9 124.0h0M397.9 123.6h0M458.5 121.9h0M410.8 126.8h0M421.7 121.8h0M349.2 121.9h0M342.5 123.8h0M476.3 120.2h0M385.1 122.1h0M475.7 120.9h0M383.4 121.8h0M429.3 123.1h0M432.6 123.8h0M346.3 125.1h0M343.4 124.6h0M399.4 125.2h0M351.9 124.3h0M377.4 122.6h0M362.3 125.1h0M380.0 122.5h0M401.5 122.3h0M379.7 125.8h0M383.4 124.6h0M406.1 123.7h0M435.8 124.5h0M339.0 124.7h0M483.3 121.1h0M397.8 123.2h0M472.1 121.4h0M333.8 123.5h0M341.4 122.2h0M347.7 125.5h0M470.5 124.1h0M394.9 122.0h0M460.5 123.3h0M437.6 121.4h0M346.0 123.4h0M387.3 124.2h0M382.8 123.7h0M401.1 120.2h0M446.5 122.8h0M345.3 124.1h0M472.6 123.8h0M404.7 125.2h0M387.9 121.3h0M438.1 124.1h0M374.5 122.3h0M440.3 123.6h0M395.5 124.0h0M404.9 124.4h0M361.3 122.4h0M363.4 123.6h0M462.8 121.4h0M419.7 121.1h0M396.5 124.2h0M449.7 123.2h0M470.4 120.7h0M356.7 121.9h0M483.4 123.3h0M334.8 125.8h0M425.4 125.0h0M372.5 124.6h0M370.8 120.5h0M407.4 123.2h0M423.9 124.1h0M398.7 123.9h0M440.5 124.0h0M476.2 122.9h0M358.2 126.1h0M368.6 125.7h0M424.7 123.2h0M394.6 121.7h0M380.3 126.6h0M408.9 122.4h0M437.9 125.2h0M469.9 126.4h0M474.8 121.8h0M456.4 123.8h0M385.0 122.8h0M466.2 124.1h0M439.9 123.8h0M359.0 126.4h0M476.6 124.3h0M370.0 123.3h0M435.7 125.1h0M437.6 122.9h0M469.8 122.7h0M433.3 126.8h0M481.2 122.0h0M341.7 122.5h0M338.4 123.4h0M362.2 121.6h0M419.6 119.9h0M396.7 125.0h0M345.2 122.1h0M363.2 122.4h0M420.2 122.7h0M393.5 121.7h0M448.0 121.6h0M403.2 123.6h0M465.2 126.8h0M447.3 124.5h0M407.4 124.5h0M386.8 120.9h0M365.0 123.3h0M376.8 121.4h0M386.3 124.5h0M387.2 122.9h0M359.7 123.4h0M404.2 123.2h0M349.6 122.4h0M463.9 120.9h0M415.8 124.2h0M347.1 121.1h0M382.2 121.4h0M371.2 122.8h0M356.3 122.2h0M405.3 123.7h0M360.4 124.9h0M355.6 123.7h0M438.7 123.6h0M397.6 123.3h0M434.2 124.7h0M403.7 120.4h0M408.8 123.9h0M379.6 121.8h0M397.1 121.3h0M405.3 123.3h0M384.4 122.7h0M457.5 124.2h0M369.9 125.1h0M366.0 119.6h0M384.7 123.2h0M451.3 126.4h0M460.7 124.7h0M418.0 125.6h0M387.2 123.5h0M430.7 121.0h0M457.5 121.5h0M369.4 124.4h0M433.5 124.8h0M439.9 122.1h0M391.6 122.9h0M354.6 123.7h0M424.4 120.5h0M364.4 122.7h0M388.3 125.9h0M414.9 126.8h0M478.1 123.1h0M354.8 126.2h0M343.8 122.5h0M414.1 122.0h0M475.1 119.7h0M339.7 124.8h0M429.7 122.7h0M336.8 126.8h0M415.9 123.8h0M350.7 123.6h0M432.2 120.4h0M387.2 125.7h0M431.5 122.7h0M371.7 123.0h0M344.0 119.8h0M360.2 124.8h0M374.1 124.9h0M357.6 122.3h0M362.7 123.5h0M414.9 123.9h0M398.8 124.8h0M457.3 123.5h0M407.8 126.1h0M414.2 122.9h0M439.9 122.3h0M461.6 122.6h0M421.0 119.2h0M338.3 122.0h0M402.0 124.9h0M337.6 123.7h0M424.0 122.0h0M342.5 123.9h0M414.2 120.1h0M355.3 122.9h0M461.9 124.2h0M346.9 124.4h0M432.3 122.1h0M439.0 124.8h0M374.3 126.3h0M422.2 122.6h0M382.5 124.5h0M371.8 120.8h0M371.9 120.2h0M335.1 124.3h0M434.3 123.4h0M343.5 123.6h0M362.4 122.4h0M345.8 122.8h0M454.1 124.6h0M412.7 126.1h0M403.3 123.0h0M420.8 120.7h0M454.7 125.4h0M426.9 124.3h0M410.2 124.4h0M380.0 123.6h0M410.7 126.8h0M481.8 123.4h0M418.8 124.1h0M404.8 120.4h0M466.8 122.4h0M340.9 122.2h0M342.3 123.3h0M451.9 123.9h0M475.0 122.1h0M340.4 126.1h0M336.3 121.6h0M334.2 122.6h0M419.8 123.7h0M353.5 121.3h0M417.5 124.2h0M432.9 124.3h0M335.0 122.8h0M464.1 126.4h0M370.8 123.4h0M416.4 123.8h0M386.1 121.8h0M384.5 120.6h0M393.6 122.3h0M333.3 122.8h0M397.4 122.6h0M372.7 124.5h0M386.7 119.5h0M357.3 121.5h0M383.3 120.4h0M438.3 125.5h0M481.3 122.4h0M362.5 122.5h0M463.6 121.6h0M425.5 124.8h0M348.0 122.7h0M334.9 123.7h0M466.2 120.1h0M368.0 125.2h0M348.7 124.0h0M431.7 124.2h0M439.4 125.3h0M467.9 123.0h0M408.2 123.1h0M379.8 124.5h0M380.8 124.0h0M363.6 122.9h0M428.6 123.4h0M475.0 122.5h0M345.5 124.5h0M391.1 124.8h0M385.8 123.3h0M344.8 126.3h0M422.5 120.9h0M481.1 122.9h0M374.5 126.1h0M442.5 122.6h0M468.7 120.8h0M373.6 125.6h0M471.5 124.2h0M445.7 121.4h0M430.2 124.6h0M362.0 121.7h0M374.6 121.2h0M348.0 123.1h0M468.0 122.6h0M454.9 121.6h0M345.8 122.7h0M412.9 121.7h0M364.9 123.4h0M448.3 123.3h0M419.2 124.5h0M475.5 122.6h0M442.5 121.2h0M347.9 121.2h0M389.0 122.9h0M419.7 125.8h0M470.4 124.7h0M388.7 122.3h0M361.1 124.8h0M375.5 121.5h0M370.2 124.9h0M356.0 122.7h0M384.6 124.6h0M370.3 124.3h0M409.8 122.9h0M467.7 123.9h0M476.8 121.6h0M356.8 123.2h0M418.7 125.1h0M434.5 126.8h0M355.7 124.5h0M413.0 123.5h0M362.9 121.7h0M387.7 125.0h0M381.6 120.7h0M455.8 122.0h0M368.1 123.9h0M414.3 121.4h0M421.1 125.8h0M382.5 125.1h0M473.0 122.4h0M382.9 122.4h0M382.0 121.2h0M437.3 121.1h0M406.3 124.0h0M442.1 124.3h0M355.8 123.9h0M355.1 123.8h0M443.8 122.4h0M391.4 123.9h0M462.1 121.0h0M368.0 123.3h0M369.0 125.7h0M463.1 125.4h0M387.3 122.6h0M349.3 122.8h0M366.0 125.5h0M448.9 126.2h0M372.8 120.9h0M416.6 122.6h0M458.7 123.7h0M424.9 125.3h0M446.4 122.0h0M480.2 124.4h0M377.9 122.8h0" stroke="#000" stroke-width="1.9" stroke-linecap="round"/><path d="M479.9 115.1h0M335.2 114.2h0M467.4 115.2h0M448.6 116.1h0M382.8 115.2h0M435.4 118.2h0M388.5 120.2h0M428.9 119.8h0M396.9 117.3h0M470.9 119.5h0M401.8 119.5h0M455.4 118.4h0M419.7 119.6h0M388.9 116.7h0M478.7 119.2h0M362.2 117.7h0M469.8 119.2h0M480.9 119.2h0M460.9 114.5h0M424.9 119.8h0M426.7 114.3h0M472.9 117.0h0M398.1 118.1h0M457.2 119.8h0M449.7 114.4h0M462.4 118.7h0M399.2 116.4h0M431.2 114.3h0M346.6 116.3h0M343.6 118.5h0M348.9 114.6h0M443.7 119.9h0M386.3 114.3h0M469.9 115.7h0M344.7 116.3h0M358.7 114.4h0M459.0 120.5h0M395.9 120.8h0M366.0 120.3h0M450.6 115.4h0M368.1 119.8h0M479.7 116.4h0M374.2 116.0h0M462.3 118.8h0M405.1 114.6h0M473.9 114.0h0M377.4 120.5h0M472.4 116.5h0M378.4 119.6h0M400.4 117.0h0M428.2 114.6h0M416.4 117.3h0M434.0 115.2h0M437.8 114.6h0M373.1 114.1h0M334.0 116.8h0M441.9 115.8h0M423.3 116.4h0M417.8 120.7h0M407.6 119.8h0M472.9 118.9h0M377.5 115.7h0M470.4 119.2h0M358.1 118.9h0M437.6 117.7h0M474.9 115.7h0M356.0 115.5h0M449.0 116.9h0M373.9 115.9h0M341.6 120.2h0M397.8 117.3h0M438.2 118.7h0M375.5 120.3h0M476.2 118.3h0M333.0 115.1h0M373.1 116.2h0M384.3 120.5h0M388.7 114.3h0M378.0 115.6h0M335.9 118.3h0M364.4 120.0h0M372.2 119.7h0M434.2 119.1h0M389.7 118.9h0M441.8 116.6h0M399.5 114.4h0M384.1 118.5h0M356.7 114.5h0M367.2 119.6h0M468.8 114.9h0M401.4 114.2h0M380.0 121.0h0M365.7 115.2h0M465.1 118.1h0M439.0 114.4h0M437.6 120.9h0M454.2 114.1h0M369.1 118.8h0M443.1 119.9h0M343.5 116.1h0M433.1 114.1h0M381.4 114.3h0M432.6 114.4h0M366.9 119.3h0M386.1 117.7h0M433.9 120.3h0M474.6 118.4h0M384.1 118.2h0M358.2 115.4h0M351.5 115.6h0M434.1 120.8h0M467.7 120.7h0M335.3 117.1h0M384.8 119.6h0M358.2 119.0h0M476.8 115.9h0M352.7 115.4h0M343.1 119.2h0M448.7 120.7h0M483.5 120.9h0M449.5 116.5h0M350.0 114.5h0M394.3 116.2h0M411.2 114.5h0M468.4 120.9h0M446.5 116.2h0M341.8 119.9h0M401.1 115.7h0M450.3 120.7h0M414.7 117.4h0M433.4 119.8h0M478.8 118.2h0M480.5 119.4h0M459.1 114.5h0M419.1 114.6h0M379.1 116.5h0M356.8 120.1h0M358.0 120.4h0M429.4 119.0h0M449.4 118.2h0M462.4 114.3h0M470.7 120.5h0M376.2 118.6h0M383.2 118.3h0M362.3 119.9h0M414.8 115.7h0M475.6 118.3h0M447.1 118.8h0M398.7 119.3h0M356.7 114.7h0M460.0 119.1h0M468.0 120.3h0M448.7 118.4h0M376.8 115.2h0M391.6 120.4h0M420.8 114.7h0M471.3 115.6h0M369.4 120.0h0M396.1 118.1h0M341.8 116.3h0M333.2 119.6h0M369.4 118.5h0M454.9 114.8h0M434.7 115.6h0M404.7 119.7h0M394.5 119.7h0M372.7 114.5h0M448.4 117.7h0M406.3 119.0h0M343.3 116.3h0M427.4 114.4h0M482.7 116.9h0M343.7 120.5h0M483.3 119.1h0M347.7 115.5h0M379.2 119.9h0M480.1 118.7h0M479.5 116.0h0M360.6 115.9h0M441.5 115.2h0M425.2 116.8h0M392.8 116.5h0M451.0 116.0h0M428.5 120.1h0M366.7 119.3h0M406.7 117.4h0M439.8 120.7h0M426.6 118.7h0M414.7 120.7h0M444.1 119.8h0M353.0 118.4h0M339.2 118.9h0M337.7 119.4h0M426.4 119.3h0M398.3 120.1h0M458.9 116.4h0M479.4 116.5h0M349.6 115.7h0M389.9 120.5h0M396.0 120.3h0M415.2 117.1h0M470.0 116.8h0M423.3 114.9h0M378.7 120.8h0M432.8 118.7h0M382.4 120.7h0M416.5 118.4h0M347.6 117.6h0M417.9 119.2h0M405.0 120.2h0M430.2 119.9h0M418.3 116.4h0M419.2 117.5h0M444.0 120.6h0M352.9 117.5h0M446.2 119.6h0M426.9 117.7h0M436.7 119.8h0M393.0 114.5h0M345.6 114.0h0M471.9 114.6h0M457.6 117.1h0M480.1 116.6h0M402.2 120.7h0M466.3 121.0h0M464.3 114.9h0M415.7 119.8h0M468.7 117.6h0M455.7 119.9h0M348.2 116.6h0M352.9 119.4h0M394.2 114.0h0M413.2 117.3h0M431.2 116.3h0M417.9 115.8h0M465.0 116.1h0M453.6 116.9h0M348.2 117.5h0M383.9 117.7h0M466.8 119.1h0M446.7 119.8h0M335.1 120.7h0M427.3 118.7h0M351.8 115.8h0M408.7 118.1h0M482.8 117.1h0M344.1 115.6h0M457.1 116.3h0M405.7 115.6h0M480.5 117.8h0M462.5 114.5h0M342.5 117.8h0M429.8 116.9h0M462.6 114.0h0M374.9 115.9h0M439.1 120.8h0M371.1 118.1h0M363.7 114.5h0M382.9 118.0h0M377.0 118.9h0M478.0 114.9h0M368.2 116.8h0M396.8 115.5h0M406.1 117.8h0M437.1 119.8h0M479.2 115.7h0M425.4 115.0h0M462.7 115.0h0M352.5 118.3h0M432.6 114.5h0M358.7 117.7h0M464.3 119.7h0M422.6 119.4h0M353.3 118.7h0M461.1 114.1h0M412.0 117.0h0M406.0 115.7h0M345.0 117.6h0M469.6 115.1h0M410.3 114.9h0M463.3 120.7h0M344.1 120.2h0M435.3 114.7h0M389.4 119.8h0M413.7 114.5h0M427.0 116.4h0M457.4 121.0h0M472.1 120.6h0M357.9 117.3h0M462.5 118.9h0M350.3 116.7h0M334.3 119.9h0M378.2 116.2h0M375.7 115.4h0M449.1 115.0h0M417.3 118.4h0M391.3 117.9h0M452.1 120.3h0M474.0 115.0h0M429.5 119.6h0M431.3 120.6h0M462.8 119.2h0M376.9 114.8h0M483.1 115.1h0M359.3 114.6h0M339.5 116.3h0M457.0 119.3h0M359.0 115.0h0M383.4 117.1h0M410.2 114.3h0M349.5 118.7h0M396.7 114.7h0M386.1 119.6h0M345.6 118.3h0M423.8 115.3h0M400.8 118.9h0M356.8 116.4h0M451.7 117.7h0M394.6 117.9h0M336.6 115.9h0M465.5 116.9h0M394.5 119.5h0M346.6 120.1h0M376.3 119.9h0M371.2 118.0h0M339.3 120.1h0M382.7 115.0h0M358.2 120.9h0M365.0 114.3h0M434.5 120.3h0" stroke="#000" stroke-width="1.9" stroke-linecap="round"/><path d="M428.1 95.6h0M427.3 99.7h0M424.7 98.9h0M427.1 96.3h0M431.1 88.2h0M416.7 93.4h0M425.3 95.7h0M424.0 103.3h0M424.5 97.0h0M417.0 94.8h0M429.1 100.6h0M422.0 94.7h0M424.8 95.1h0M423.6 95.9h0M418.3 88.5h0M423.8 99.6h0M417.6 97.2h0M421.6 94.0h0M424.4 90.1h0M425.8 96.2h0M426.1 101.5h0M425.2 92.4h0M435.5 90.5h0M427.8 97.1h0M420.4 88.1h0M423.1 86.5h0M422.9 93.3h0M425.1 92.1h0M423.1 94.0h0M422.0 92.8h0M433.3 96.7h0M426.0 94.3h0M424.3 92.6h0M424.7 93.2h0M424.9 98.1h0M432.1 99.6h0M428.0 99.3h0M430.9 98.4h0M416.7 86.5h0M427.3 90.8h0M430.6 93.8h0M434.7 96.2h0M426.0 88.0h0M418.1 101.7h0M428.5 96.6h0M423.2 92.5h0M417.8 96.0h0M423.1 93.7h0M430.6 91.8h0M431.3 97.5h0M429.1 93.2h0M421.1 88.9h0M437.2 92.4h0M420.6 94.8h0M425.5 90.4h0M419.4 100.9h0M431.8 90.4h0M427.9 103.2h0M429.9 99.3h0M426.3 91.0h0M425.6 95.9h0M426.7 100.6h0M417.4 94.4h0M430.3 89.9h0M430.0 95.8h0M424.1 104.2h0M425.8 88.6h0M427.2 97.8h0M432.9 95.3h0M427.8 94.8h0M426.1 93.5h0M423.6 93.9h0M419.1 100.0h0M423.2 98.0h0M426.2 90.8h0M424.8 102.3h0M426.2 89.5h0M429.2 98.3h0M427.9 96.1h0M427.1 100.7h0M428.9 96.9h0M426.7 100.1h0M425.8 95.2h0M428.0 99.7h0M418.1 96.9h0M431.5 105.0h0M420.1 92.2h0M429.7 100.7h0M426.0 97.4h0M430.9 96.1h0M426.1 92.8h0M421.7 97.3h0M430.7 88.7h0M426.7 89.2h0M426.5 98.5h0" stroke="#000" stroke-width="1.9" stroke-linecap="round"/><path d="M440.7 92.6h0M435.9 102.2h0M431.6 106.3h0M442.4 101.3h0M442.9 91.6h0M445.1 94.1h0M431.6 100.8h0M429.7 109.1h0M447.2 103.1h0M441.4 103.9h0M430.7 101.9h0M443.6 96.5h0M429.9 102.2h0M442.0 90.2h0M440.4 98.3h0M443.7 106.2h0M430.7 94.1h0M447.8 103.0h0M448.4 104.4h0M449.4 93.1h0M444.8 107.2h0M435.2 94.9h0M449.2 109.3h0M441.6 96.9h0M443.8 102.2h0M442.6 109.0h0M433.0 106.4h0M446.6 99.7h0M442.3 93.9h0M433.3 102.3h0M436.6 101.8h0M431.7 91.3h0M437.8 97.6h0M449.5 108.4h0M436.8 100.5h0M437.0 93.6h0M445.6 102.9h0M430.4 99.1h0M431.2 108.3h0M444.4 99.8h0" stroke="#000" stroke-width="1.9" stroke-linecap="round"/></g><path d="M332.7 101.7 L334.0 99.9 L335.2 98.1 L336.5 96.3 L337.7 94.6 L339.0 92.8 L340.2 91.1 L341.5 89.4 L342.7 87.7 L344.0 86.1 L345.3 84.6 L346.5 83.0 L347.8 81.5 L349.0 80.1 L350.3 78.7 L351.5 77.4 L352.8 76.2 L354.0 75.0 L355.3 74.0 L356.6 72.9 L357.8 72.0 L359.1 71.1 L360.3 70.4 L361.6 69.7 L362.8 69.1 L364.1 68.6 L365.4 68.1 L366.6 67.8 L367.9 67.6 L369.1 67.4 L370.4 67.4 L371.6 67.4 L372.9 67.6 L374.1 67.8 L375.4 68.1 L376.7 68.6 L377.9 69.1 L379.2 69.7 L380.4 70.4 L381.7 71.1 L382.9 72.0 L384.2 72.9 L385.4 74.0 L386.7 75.0 L388.0 76.2 L389.2 77.4 L390.5 78.7 L391.7 80.1 L393.0 81.5 L394.2 83.0 L395.5 84.6 L396.7 86.1 L398.0 87.7 L399.3 89.4 L400.5 91.1 L401.8 92.8 L403.0 94.6 L404.3 96.3 L405.5 98.1 L406.8 99.9 L408.0 101.7 L409.3 103.5 L410.6 105.3 L411.8 107.1 L413.1 108.8 L414.3 110.6 L415.6 112.3 L416.8 114.0 L418.1 115.7 L419.4 117.3 L420.6 118.9 L421.9 120.4 L423.1 121.9 L424.4 123.3 L425.6 124.7 L426.9 126.0 L428.1 127.2 L429.4 128.4 L430.7 129.4 L431.9 130.5 L433.2 131.4 L434.4 132.3 L435.7 133.0 L436.9 133.7 L438.2 134.3 L439.4 134.8 L440.7 135.3 L442.0 135.6 L443.2 135.8 L444.5 136.0 L445.7 136.0 L447.0 136.0 L448.2 135.8 L449.5 135.6 L450.7 135.3 L452.0 134.8 L453.3 134.3 L454.5 133.7 L455.8 133.0 L457.0 132.3 L458.3 131.4 L459.5 130.5 L460.8 129.4 L462.1 128.4 L463.3 127.2 L464.6 126.0 L465.8 124.7 L467.1 123.3 L468.3 121.9 L469.6 120.4 L470.8 118.9 L472.1 117.3 L473.4 115.7 L474.6 114.0 L475.9 112.3 L477.1 110.6 L478.4 108.8 L479.6 107.1 L480.9 105.3 L482.1 103.5 L483.4 101.7" stroke="#f0584c" stroke-width="0.8" fill="none" clip-path="url(#c332)"/><clipPath id="c332"><rect x="332.7" y="52.0" width="150.7" height="99.5"/></clipPath><path d="M332.7 52.0V151.5H483.4" stroke="#9a9a9a" stroke-width="1" fill="none"/><path d="M332.7 151.5v-1.4M351.5 151.5v-1.4M370.4 151.5v-1.4M389.2 151.5v-1.4M408.0 151.5v-1.4M426.9 151.5v-1.4M445.7 151.5v-1.4M464.6 151.5v-1.4M483.4 151.5v-1.4M332.7 73.9h1.4M332.7 97.4h1.4M332.7 120.8h1.4M332.7 144.2h1.4" stroke="#888" stroke-width="0.6"/></svg><div class="t c" style="left:332.7px;top:159.2px;font-size:5.9px">0</div><div class="t c" style="left:351.5px;top:159.2px;font-size:5.9px">45</div><div class="t c" style="left:370.4px;top:159.2px;font-size:5.9px">90</div><div class="t c" style="left:389.2px;top:159.2px;font-size:5.9px">135</div><div class="t c" style="left:408.0px;top:159.2px;font-size:5.9px">180</div><div class="t c" style="left:426.9px;top:159.2px;font-size:5.9px">225</div><div class="t c" style="left:445.7px;top:159.2px;font-size:5.9px">270</div><div class="t c" style="left:464.6px;top:159.2px;font-size:5.9px">315</div><div class="t c" style="left:483.4px;top:159.2px;font-size:5.9px">360</div><div class="t" style="right:219.1px;top:70.3px;font-size:5.9px">10<sup style="font-size:4.2px;vertical-align:2.6px">2</sup></div><div class="t" style="right:219.1px;top:93.8px;font-size:5.9px">10<sup style="font-size:4.2px;vertical-align:2.6px">1</sup></div><div class="t" style="right:219.1px;top:117.2px;font-size:5.9px">10<sup style="font-size:4.2px;vertical-align:2.6px">0</sup></div><div class="t" style="right:219.1px;top:140.7px;font-size:5.9px">10<sup style="font-size:4.2px;vertical-align:2.6px">-1</sup></div><div class="t c" style="left:408.0px;top:166.8px;font-size:6.3px">Phase Angle (degrees)</div><div class="r90" style="left:315.4px;top:101.3px;font-size:6.3px">Amplitude (mV)</div><div class="a" style="left:231.7px;top:51.7px;width:11.4px;height:99.8px;background:linear-gradient(to top,#ff00ff 0.0%,#ff00ff 1.2%,#ff0000 2.2%,#ff1000 4.0%,#ff8c00 5.0%,#ffff00 6.5%,#e0ff00 7.8%,#00ff00 9.0%,#00ff00 14.5%,#00ffff 20.0%,#00e8ff 21.5%,#0040ff 29.0%,#0000ff 33.0%,#0000e0 36.0%,#000090 45.0%,#000070 50.0%,#000030 60.0%,#000008 70.0%,#000000 100.0%)"></div><div class="t" style="left:244.9px;top:52.4px;font-size:5.2px;color:#444;transform:translateY(-50%)">0.3172</div><div class="t" style="left:244.9px;top:72.4px;font-size:5.2px;color:#444;transform:translateY(-50%)">0.2544</div><div class="t" style="left:244.9px;top:92.4px;font-size:5.2px;color:#444;transform:translateY(-50%)">0.1916</div><div class="t" style="left:244.9px;top:112.5px;font-size:5.2px;color:#444;transform:translateY(-50%)">0.1288</div><div class="t" style="left:244.9px;top:132.5px;font-size:5.2px;color:#444;transform:translateY(-50%)">0.0660</div><div class="t" style="left:244.9px;top:152.5px;font-size:5.2px;color:#444;transform:translateY(-50%)">0.0032</div><div class="r90" style="left:267.2px;top:103px;font-size:5.6px">t<sub style="font-size:4.2px;vertical-align:-1px">eff</sub> (&#956;s)</div><div class="btn" style="left:244.0px;top:162.3px;width:24px;height:6.8px;font-size:5.2px;line-height:5.6px;font-style:normal;letter-spacing:-0.35px;background:#e4e4e4;border-color:#d0d0d0;color:#333">Export</div><div class="btn" style="left:513.0px;top:162.7px;width:24px;height:6.8px;font-size:5.2px;line-height:5.6px;font-style:normal;letter-spacing:-0.35px;background:#e4e4e4;border-color:#d0d0d0;color:#333">Export</div><div class="btn" style="left:244.4px;top:294.7px;width:24px;height:6.8px;font-size:5.2px;line-height:5.6px;font-style:normal;letter-spacing:-0.35px;background:#e4e4e4;border-color:#d0d0d0;color:#333">Export</div><div class="r90" style="left:18.9px;top:203.8px;font-size:6.8px;font-style:italic;color:#1a1a1a">Slope</div><div class="r90" style="left:32.9px;top:199.2px;font-size:6.8px;font-style:italic;color:#1a1a1a">Position</div><div class="r90" style="left:46.3px;top:203.0px;font-size:6.8px;font-style:italic;color:#1a1a1a">Width</div><div class="a" style="left:12.0px;top:217.3px;width:10.6px;height:83.0px;background:#e1e1e1;border-left:1px solid #d2d2d2;border-right:1px solid #b0b0b0"></div><div class="a" style="left:12.0px;top:283.2px;width:10.6px;height:17.1px;background:#ebebeb;border-left:1px solid #d8d8d8;border-right:1px solid #b0b0b0"></div><div class="a" style="left:12.0px;top:217.3px;width:10.6px;height:6px;background:#f5f5f5;border-right:1px solid #9c9c9c;border-bottom:1px solid #9c9c9c"></div><div class="tri" style="left:16.0px;top:219.7px;border-bottom:1.4px solid #333"></div><div class="a" style="left:12.0px;top:277.2px;width:10.6px;height:6.0px;background:#fafafa;border-right:1px solid #9c9c9c;border-bottom:1px solid #9c9c9c"></div><div class="a" style="left:12.0px;top:294.3px;width:10.6px;height:6px;background:#efefef;border-right:1px solid #9c9c9c;border-bottom:1px solid #9c9c9c"></div><div class="tri" style="left:16.0px;top:296.7px;border-top:1.4px solid #333"></div><div class="a" style="left:26.8px;top:217.3px;width:10.6px;height:83.0px;background:#e1e1e1;border-left:1px solid #d2d2d2;border-right:1px solid #b0b0b0"></div><div class="a" style="left:26.8px;top:293.8px;width:10.6px;height:6.5px;background:#ebebeb;border-left:1px solid #d8d8d8;border-right:1px solid #b0b0b0"></div><div class="a" style="left:26.8px;top:217.3px;width:10.6px;height:6px;background:#f5f5f5;border-right:1px solid #9c9c9c;border-bottom:1px solid #9c9c9c"></div><div class="tri" style="left:30.8px;top:219.7px;border-bottom:1.4px solid #333"></div><div class="a" style="left:26.8px;top:288.2px;width:10.6px;height:5.6px;background:#fafafa;border-right:1px solid #9c9c9c;border-bottom:1px solid #9c9c9c"></div><div class="a" style="left:26.8px;top:294.3px;width:10.6px;height:6px;background:#efefef;border-right:1px solid #9c9c9c;border-bottom:1px solid #9c9c9c"></div><div class="tri" style="left:30.8px;top:296.7px;border-top:1.4px solid #333"></div><div class="a" style="left:41.2px;top:217.3px;width:10.3px;height:83.0px;background:#e1e1e1;border-left:1px solid #d2d2d2;border-right:1px solid #b0b0b0"></div><div class="a" style="left:41.2px;top:287.3px;width:10.3px;height:13.0px;background:#ebebeb;border-left:1px solid #d8d8d8;border-right:1px solid #b0b0b0"></div><div class="a" style="left:41.2px;top:217.3px;width:10.3px;height:6px;background:#f5f5f5;border-right:1px solid #9c9c9c;border-bottom:1px solid #9c9c9c"></div><div class="tri" style="left:45.1px;top:219.7px;border-bottom:1.4px solid #333"></div><div class="a" style="left:41.2px;top:281.3px;width:10.3px;height:6.0px;background:#fafafa;border-right:1px solid #9c9c9c;border-bottom:1px solid #9c9c9c"></div><div class="a" style="left:41.2px;top:294.3px;width:10.3px;height:6px;background:#efefef;border-right:1px solid #9c9c9c;border-bottom:1px solid #9c9c9c"></div><div class="tri" style="left:45.1px;top:296.7px;border-top:1.4px solid #333"></div><div class="a" style="left:71px;top:194.1px;width:134px;height:10.5px;background:linear-gradient(to right,#ff00ff 0.0%,#ff00ff 1.2%,#ff0000 2.2%,#ff1000 4.0%,#ff8c00 5.0%,#ffff00 6.5%,#e0ff00 7.8%,#00ff00 9.0%,#00ff00 14.5%,#00ffff 20.0%,#00e8ff 21.5%,#0040ff 29.0%,#0000ff 33.0%,#0000e0 36.0%,#000090 45.0%,#000070 50.0%,#000030 60.0%,#000008 70.0%,#000000 100.0%)"></div><div class="a" style="left:71.0px;top:212.3px;width:133.8px;height:72.0px;background:#fff"></div><svg width="550" height="312"><path d="M90.9 212.3V284.3M112.2 212.3V284.3M133.6 212.3V284.3M154.9 212.3V284.3M176.2 212.3V284.3M197.5 212.3V284.3M71.0 260.9H204.8M71.0 237.6H204.8M71.0 214.2H204.8" stroke="#e4e4e4" stroke-width="0.6"/><path d="M71.0 212.3V284.3H204.8" stroke="#9a9a9a" stroke-width="1" fill="none"/><path d="M71.0 213.1 L72.3 217.1 L73.7 220.9 L75.0 224.5 L76.4 228.0 L77.7 231.2 L79.0 234.2 L80.4 237.0 L81.7 239.7 L83.0 242.3 L84.4 244.7 L85.7 246.9 L87.1 249.1 L88.4 251.1 L89.7 253.0 L91.1 254.7 L92.4 256.4 L93.7 258.0 L95.1 259.5 L96.4 260.9 L97.8 262.3 L99.1 263.5 L100.4 264.7 L101.8 265.8 L103.1 266.9 L104.5 267.9 L105.8 268.8 L107.1 269.7 L108.5 270.5 L109.8 271.3 L111.1 272.0 L112.5 272.7 L113.8 273.4 L115.2 274.0 L116.5 274.6 L117.8 275.2 L119.2 275.7 L120.5 276.2 L121.8 276.6 L123.2 277.1 L124.5 277.5 L125.9 277.9 L127.2 278.2 L128.5 278.6 L129.9 278.9 L131.2 279.2 L132.5 279.5 L133.9 279.8 L135.2 280.0 L136.6 280.3 L137.9 280.5 L139.2 280.7 L140.6 280.9 L141.9 281.1 L143.3 281.3 L144.6 281.5 L145.9 281.6 L147.3 281.8 L148.6 281.9 L149.9 282.1 L151.3 282.2 L152.6 282.3 L154.0 282.4 L155.3 282.5 L156.6 282.6 L158.0 282.7 L159.3 282.8 L160.6 282.9 L162.0 283.0 L163.3 283.1 L164.7 283.1 L166.0 283.2 L167.3 283.3 L168.7 283.3 L170.0 283.4 L171.4 283.4 L172.7 283.5 L174.0 283.5 L175.4 283.6 L176.7 283.6 L178.0 283.6 L179.4 283.7 L180.7 283.7 L182.1 283.8 L183.4 283.8 L184.7 283.8 L186.1 283.8 L187.4 283.9 L188.7 283.9 L190.1 283.9 L191.4 283.9 L192.8 284.0 L194.1 284.0 L195.4 284.0 L196.8 284.0 L198.1 284.0 L199.4 284.0 L200.8 284.1 L202.1 284.1 L203.5 284.1 L204.8 284.1" stroke="#111" stroke-width="1.5" fill="none"/><path d="M71.0 272.6H80.0L87.2 284.3H112.3" stroke="#ff0000" stroke-width="1.5" fill="none"/><path d="M71.0 272.6 L75.2 284.3 L87.2 284.3 L96.9 272.6 L112.3 272.6 L113.9 273.4 L115.4 274.1 L117.0 274.8 L118.6 275.4 L120.1 276.0 L121.7 276.6 L123.3 277.1 L124.8 277.6 L126.4 278.0 L128.0 278.4 L129.5 278.8 L131.1 279.2 L132.7 279.5 L134.2 279.8 L135.8 280.1 L137.4 280.4 L139.0 280.7 L140.5 280.9 L142.1 281.1 L143.7 281.4 L145.2 281.5 L146.8 281.7 L148.4 281.9 L149.9 282.1 L151.5 282.2 L153.1 282.3 L154.6 282.5 L156.2 282.6 L157.8 282.7 L159.3 282.8 L160.9 282.9 L162.5 283.0 L164.0 283.1 L165.6 283.2 L167.2 283.2 L168.7 283.3 L170.3 283.4 L171.9 283.4 L173.4 283.5 L175.0 283.6 L176.6 283.6 L178.1 283.7 L179.7 283.7 L181.3 283.7 L182.9 283.8 L184.4 283.8 L186.0 283.8 L187.6 283.9 L189.1 283.9 L190.7 283.9 L192.3 283.9 L193.8 284.0 L195.4 284.0 L197.0 284.0 L198.5 284.0 L200.1 284.1 L201.7 284.1 L203.2 284.1 L204.8 284.1" stroke="#0000ff" stroke-width="1.5" fill="none"/><path d="M71.0 284.3H75.2L80.0 272.6H96.9L112.3 284.3H204.8" stroke="#00ee00" stroke-width="1.5" fill="none"/></svg><div class="t" style="left:65.5px;top:284.3px;font-size:5.9px;transform:translateY(-50%)">0</div><div class="t" style="left:65.5px;top:260.9px;font-size:5.9px;transform:translateY(-50%)">2</div><div class="t" style="left:65.5px;top:237.6px;font-size:5.9px;transform:translateY(-50%)">4</div><div class="t" style="left:65.5px;top:214.2px;font-size:5.9px;transform:translateY(-50%)">6</div><div class="t c" style="left:90.9px;top:291.5px;font-size:5.9px">0.05</div><div class="t c" style="left:112.2px;top:291.5px;font-size:5.9px">0.1</div><div class="t c" style="left:133.6px;top:291.5px;font-size:5.9px">0.15</div><div class="t c" style="left:154.9px;top:291.5px;font-size:5.9px">0.2</div><div class="t c" style="left:176.2px;top:291.5px;font-size:5.9px">0.25</div><div class="t c" style="left:197.5px;top:291.5px;font-size:5.9px">0.3</div><div class="r90" style="left:60.3px;top:248.2px;font-size:6.3px">Tonality</div><div class="t c" style="left:138px;top:299.5px;font-size:6.3px">t<sub style="font-size:4.6px;vertical-align:-1.2px">eff</sub> (&#956;s)</div><div class="t c" style="left:237.7px;top:219.3px;font-size:6.8px;font-style:italic;color:#1e1e1e">Effective Time</div><div class="t c" style="left:238.2px;top:227.2px;font-size:6.8px;font-style:italic;color:#1e1e1e">Limits (&#956;s) :</div><div class="a" style="left:209.2px;top:234.3px;width:27.2px;height:7.5px;background:#ff00ff;color:#fff;font-size:6px;line-height:7.7px;text-align:center;font-weight:bold">0.003230</div><div class="a" style="left:238.8px;top:234.3px;width:27.3px;height:7.5px;background:#f0199c;color:#fff;font-size:6px;line-height:7.7px;text-align:center;font-weight:bold">0.006373</div></body></html>
